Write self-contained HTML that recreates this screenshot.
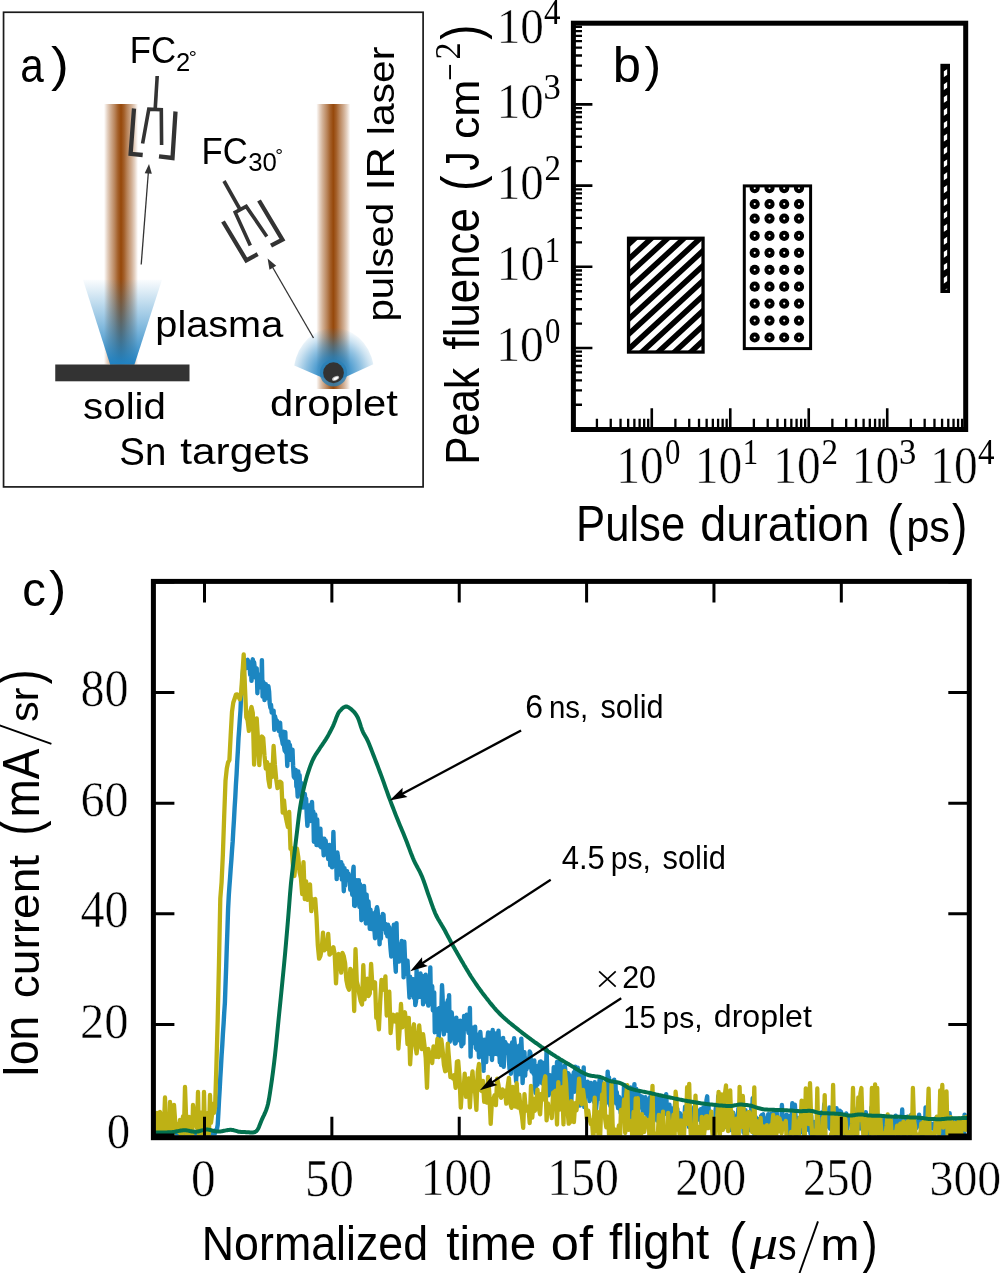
<!DOCTYPE html>
<html><head><meta charset="utf-8"><title>Figure</title>
<style>html,body{margin:0;padding:0;background:#fff;overflow:hidden}svg{display:block;will-change:transform}</style>
</head><body>
<svg width="1000" height="1273" viewBox="0 0 1000 1273">
<rect width="1000" height="1273" fill="#fff"/>
<rect x="3.55" y="12.25" width="419.55" height="474.65" fill="none" stroke="#1a1a1a" stroke-width="1.7"/>
<defs>
<linearGradient id="beam" x1="0" y1="0" x2="1" y2="0">
<stop offset="0" stop-color="#96480a" stop-opacity="0"/>
<stop offset="0.04" stop-color="#96480a" stop-opacity="0.1"/>
<stop offset="0.1" stop-color="#96480a" stop-opacity="0.25"/>
<stop offset="0.18" stop-color="#96480a" stop-opacity="0.42"/>
<stop offset="0.32" stop-color="#96480a" stop-opacity="0.68"/>
<stop offset="0.41" stop-color="#96480a" stop-opacity="0.87"/>
<stop offset="0.5" stop-color="#96480a" stop-opacity="1"/>
<stop offset="0.59" stop-color="#96480a" stop-opacity="0.87"/>
<stop offset="0.68" stop-color="#96480a" stop-opacity="0.68"/>
<stop offset="0.82" stop-color="#96480a" stop-opacity="0.42"/>
<stop offset="0.9" stop-color="#96480a" stop-opacity="0.25"/>
<stop offset="0.96" stop-color="#96480a" stop-opacity="0.1"/>
<stop offset="1" stop-color="#96480a" stop-opacity="0"/>
</linearGradient>
<linearGradient id="cone" x1="0" y1="0" x2="0" y2="1">
<stop offset="0" stop-color="#1f82c3" stop-opacity="0.02"/>
<stop offset="0.5" stop-color="#1f82c3" stop-opacity="0.5"/>
<stop offset="1" stop-color="#1f82c3" stop-opacity="1"/>
</linearGradient>
<radialGradient id="glow" gradientUnits="userSpaceOnUse" cx="333.5" cy="373" r="46">
<stop offset="0" stop-color="#1f82c3" stop-opacity="1"/>
<stop offset="0.35" stop-color="#1f82c3" stop-opacity="0.82"/>
<stop offset="0.6" stop-color="#1f82c3" stop-opacity="0.5"/>
<stop offset="0.8" stop-color="#1f82c3" stop-opacity="0.22"/>
<stop offset="1" stop-color="#1f82c3" stop-opacity="0"/>
</radialGradient>
</defs>
<rect x="104" y="104" width="34" height="260.5" fill="url(#beam)"/>
<rect x="316.3" y="104" width="34" height="285" fill="url(#beam)"/>
<polygon points="83,279.7 162,279.7 134.4,364.7 110.2,364.7" fill="url(#cone)"/>
<rect x="55.25" y="364.5" width="134.25" height="16.8" fill="#333"/>
<path d="M333.5,382.5 L294.2,365.6 A40.3,46 0 0 1 373.3,364.2 Z" fill="url(#glow)"/>
<circle cx="333.5" cy="373" r="13.6" fill="#2a7fb5" fill-opacity="0.8"/>
<circle cx="333.5" cy="372.75" r="10.4" fill="#333"/>
<ellipse cx="335.6" cy="378.4" rx="3.8" ry="2.0" transform="rotate(-25 335.6 378.4)" fill="#bbb"/>
<ellipse cx="335.8" cy="378.3" rx="2.6" ry="1.2" transform="rotate(-25 335.8 378.3)" fill="#fff"/>
<polyline points="157.2,76 155.2,109" fill="none" stroke="#333" stroke-width="3.6" stroke-linejoin="miter" stroke-linecap="butt"/>
<polyline points="142.6,143.5 148.8,109.2 161.3,109.8 161.6,145" fill="none" stroke="#333" stroke-width="3.6" stroke-linejoin="miter" stroke-linecap="butt"/>
<polyline points="134,108.5 130.6,153.8 142.7,155" fill="none" stroke="#333" stroke-width="4.3" stroke-linejoin="miter" stroke-linecap="butt"/>
<polyline points="175.5,111.5 172.5,158 159,156.3" fill="none" stroke="#333" stroke-width="4.3" stroke-linejoin="miter" stroke-linecap="butt"/>
<polyline points="224,181 239.5,208.5" fill="none" stroke="#333" stroke-width="3.6" stroke-linejoin="miter" stroke-linecap="butt"/>
<polyline points="250.3,245.5 235.2,212.4 246.2,206.4 266.8,236.4" fill="none" stroke="#333" stroke-width="3.6" stroke-linejoin="miter" stroke-linecap="butt"/>
<polyline points="223,221.5 246.3,260.3 257.7,254.2" fill="none" stroke="#333" stroke-width="4.3" stroke-linejoin="miter" stroke-linecap="butt"/>
<polyline points="259,200.5 282.4,239.6 271,245.7" fill="none" stroke="#333" stroke-width="4.3" stroke-linejoin="miter" stroke-linecap="butt"/>
<line x1="141.20" y1="264.50" x2="148.30" y2="172.97" stroke="#333" stroke-width="1.3"/><polygon points="149.00,164.00 151.85,173.75 148.26,173.47 144.68,173.19" fill="#333"/>
<line x1="313.50" y1="338.00" x2="272.60" y2="267.26" stroke="#333" stroke-width="1.3"/><polygon points="267.60,258.60 276.23,265.74 272.86,267.69 269.48,269.64" fill="#333"/>
<defs><clipPath id="hclip"><rect x="628.5" y="238.2" width="74.5" height="113.8"/></clipPath><clipPath id="dclip"><rect x="745.3" y="186.9" width="64.3" height="160.7"/></clipPath><clipPath id="tclip"><rect x="943.6" y="67" width="3.8" height="222.5"/></clipPath></defs>
<g clip-path="url(#hclip)"><path d="M620,222.20L712,137.56M620,237.20L712,152.56M620,252.20L712,167.56M620,267.20L712,182.56M620,282.20L712,197.56M620,297.20L712,212.56M620,312.20L712,227.56M620,327.20L712,242.56M620,342.20L712,257.56M620,357.20L712,272.56M620,372.20L712,287.56M620,387.20L712,302.56M620,402.20L712,317.56M620,417.20L712,332.56M620,432.20L712,347.56M620,447.20L712,362.56" stroke="#000" stroke-width="5.5" fill="none"/></g>
<rect x="628.55" y="238.25" width="74.5" height="113.8" fill="none" stroke="#000" stroke-width="3.3"/>
<g clip-path="url(#dclip)"><circle cx="754.7" cy="188.1" r="5.1" fill="#000"/><circle cx="754.7" cy="188.1" r="1.1" fill="#fff"/><circle cx="769.5" cy="188.1" r="5.1" fill="#000"/><circle cx="769.5" cy="188.1" r="1.1" fill="#fff"/><circle cx="784.2" cy="188.1" r="5.1" fill="#000"/><circle cx="784.2" cy="188.1" r="1.1" fill="#fff"/><circle cx="799.0" cy="188.1" r="5.1" fill="#000"/><circle cx="799.0" cy="188.1" r="1.1" fill="#fff"/><circle cx="754.7" cy="204.1" r="5.1" fill="#000"/><circle cx="754.7" cy="204.1" r="1.1" fill="#fff"/><circle cx="769.5" cy="204.1" r="5.1" fill="#000"/><circle cx="769.5" cy="204.1" r="1.1" fill="#fff"/><circle cx="784.2" cy="204.1" r="5.1" fill="#000"/><circle cx="784.2" cy="204.1" r="1.1" fill="#fff"/><circle cx="799.0" cy="204.1" r="5.1" fill="#000"/><circle cx="799.0" cy="204.1" r="1.1" fill="#fff"/><circle cx="754.7" cy="218.6" r="5.1" fill="#000"/><circle cx="754.7" cy="218.6" r="1.1" fill="#fff"/><circle cx="769.5" cy="218.6" r="5.1" fill="#000"/><circle cx="769.5" cy="218.6" r="1.1" fill="#fff"/><circle cx="784.2" cy="218.6" r="5.1" fill="#000"/><circle cx="784.2" cy="218.6" r="1.1" fill="#fff"/><circle cx="799.0" cy="218.6" r="5.1" fill="#000"/><circle cx="799.0" cy="218.6" r="1.1" fill="#fff"/><circle cx="754.7" cy="235.8" r="5.1" fill="#000"/><circle cx="754.7" cy="235.8" r="1.1" fill="#fff"/><circle cx="769.5" cy="235.8" r="5.1" fill="#000"/><circle cx="769.5" cy="235.8" r="1.1" fill="#fff"/><circle cx="784.2" cy="235.8" r="5.1" fill="#000"/><circle cx="784.2" cy="235.8" r="1.1" fill="#fff"/><circle cx="799.0" cy="235.8" r="5.1" fill="#000"/><circle cx="799.0" cy="235.8" r="1.1" fill="#fff"/><circle cx="754.7" cy="252.8" r="5.1" fill="#000"/><circle cx="754.7" cy="252.8" r="1.1" fill="#fff"/><circle cx="769.5" cy="252.8" r="5.1" fill="#000"/><circle cx="769.5" cy="252.8" r="1.1" fill="#fff"/><circle cx="784.2" cy="252.8" r="5.1" fill="#000"/><circle cx="784.2" cy="252.8" r="1.1" fill="#fff"/><circle cx="799.0" cy="252.8" r="5.1" fill="#000"/><circle cx="799.0" cy="252.8" r="1.1" fill="#fff"/><circle cx="754.7" cy="269.8" r="5.1" fill="#000"/><circle cx="754.7" cy="269.8" r="1.1" fill="#fff"/><circle cx="769.5" cy="269.8" r="5.1" fill="#000"/><circle cx="769.5" cy="269.8" r="1.1" fill="#fff"/><circle cx="784.2" cy="269.8" r="5.1" fill="#000"/><circle cx="784.2" cy="269.8" r="1.1" fill="#fff"/><circle cx="799.0" cy="269.8" r="5.1" fill="#000"/><circle cx="799.0" cy="269.8" r="1.1" fill="#fff"/><circle cx="754.7" cy="286.7" r="5.1" fill="#000"/><circle cx="754.7" cy="286.7" r="1.1" fill="#fff"/><circle cx="769.5" cy="286.7" r="5.1" fill="#000"/><circle cx="769.5" cy="286.7" r="1.1" fill="#fff"/><circle cx="784.2" cy="286.7" r="5.1" fill="#000"/><circle cx="784.2" cy="286.7" r="1.1" fill="#fff"/><circle cx="799.0" cy="286.7" r="5.1" fill="#000"/><circle cx="799.0" cy="286.7" r="1.1" fill="#fff"/><circle cx="754.7" cy="303.6" r="5.1" fill="#000"/><circle cx="754.7" cy="303.6" r="1.1" fill="#fff"/><circle cx="769.5" cy="303.6" r="5.1" fill="#000"/><circle cx="769.5" cy="303.6" r="1.1" fill="#fff"/><circle cx="784.2" cy="303.6" r="5.1" fill="#000"/><circle cx="784.2" cy="303.6" r="1.1" fill="#fff"/><circle cx="799.0" cy="303.6" r="5.1" fill="#000"/><circle cx="799.0" cy="303.6" r="1.1" fill="#fff"/><circle cx="754.7" cy="320.6" r="5.1" fill="#000"/><circle cx="754.7" cy="320.6" r="1.1" fill="#fff"/><circle cx="769.5" cy="320.6" r="5.1" fill="#000"/><circle cx="769.5" cy="320.6" r="1.1" fill="#fff"/><circle cx="784.2" cy="320.6" r="5.1" fill="#000"/><circle cx="784.2" cy="320.6" r="1.1" fill="#fff"/><circle cx="799.0" cy="320.6" r="5.1" fill="#000"/><circle cx="799.0" cy="320.6" r="1.1" fill="#fff"/><circle cx="754.7" cy="337.5" r="5.1" fill="#000"/><circle cx="754.7" cy="337.5" r="1.1" fill="#fff"/><circle cx="769.5" cy="337.5" r="5.1" fill="#000"/><circle cx="769.5" cy="337.5" r="1.1" fill="#fff"/><circle cx="784.2" cy="337.5" r="5.1" fill="#000"/><circle cx="784.2" cy="337.5" r="1.1" fill="#fff"/><circle cx="799.0" cy="337.5" r="5.1" fill="#000"/><circle cx="799.0" cy="337.5" r="1.1" fill="#fff"/></g>
<rect x="744.3" y="185.9" width="66.3" height="162.7" fill="none" stroke="#000" stroke-width="3"/>
<rect x="940.4" y="63.8" width="9.6" height="229.2" fill="#000"/>
<g clip-path="url(#tclip)"><path d="M943.6,71.50L947.4,68.90L947.4,74.70L943.6,77.30ZM943.6,84.40L947.4,81.80L947.4,87.60L943.6,90.20ZM943.6,97.30L947.4,94.70L947.4,100.50L943.6,103.10ZM943.6,110.20L947.4,107.60L947.4,113.40L943.6,116.00ZM943.6,123.10L947.4,120.50L947.4,126.30L943.6,128.90ZM943.6,136.00L947.4,133.40L947.4,139.20L943.6,141.80ZM943.6,148.90L947.4,146.30L947.4,152.10L943.6,154.70ZM943.6,161.80L947.4,159.20L947.4,165.00L943.6,167.60ZM943.6,174.70L947.4,172.10L947.4,177.90L943.6,180.50ZM943.6,187.60L947.4,185.00L947.4,190.80L943.6,193.40ZM943.6,200.50L947.4,197.90L947.4,203.70L943.6,206.30ZM943.6,213.40L947.4,210.80L947.4,216.60L943.6,219.20ZM943.6,226.30L947.4,223.70L947.4,229.50L943.6,232.10ZM943.6,239.20L947.4,236.60L947.4,242.40L943.6,245.00ZM943.6,252.10L947.4,249.50L947.4,255.30L943.6,257.90ZM943.6,265.00L947.4,262.40L947.4,268.20L943.6,270.80ZM943.6,277.90L947.4,275.30L947.4,281.10L943.6,283.70ZM943.6,290.80L947.4,288.20L947.4,294.00L943.6,296.60ZM943.6,303.70L947.4,301.10L947.4,306.90L943.6,309.50Z" fill="#fff"/></g>
<path d="M573.4,429.20H592.4M573.30,429.5V408.3M573.4,348.00H592.4M651.78,429.5V408.3M573.4,266.80H592.4M730.26,429.5V408.3M573.4,185.60H592.4M808.74,429.5V408.3M573.4,104.40H592.4M887.22,429.5V408.3M573.4,23.20H592.4M965.70,429.5V408.3" stroke="#000" stroke-width="2.6" fill="none"/>
<path d="M573.4,404.76H582.0M596.92,429.5V418.8M573.4,390.46H582.0M610.74,429.5V418.8M573.4,380.31H582.0M620.55,429.5V418.8M573.4,372.44H582.0M628.16,429.5V418.8M573.4,366.01H582.0M634.37,429.5V418.8M573.4,360.58H582.0M639.62,429.5V418.8M573.4,355.87H582.0M644.17,429.5V418.8M573.4,351.72H582.0M648.19,429.5V418.8M573.4,323.56H582.0M675.40,429.5V418.8M573.4,309.26H582.0M689.22,429.5V418.8M573.4,299.11H582.0M699.03,429.5V418.8M573.4,291.24H582.0M706.64,429.5V418.8M573.4,284.81H582.0M712.85,429.5V418.8M573.4,279.38H582.0M718.10,429.5V418.8M573.4,274.67H582.0M722.65,429.5V418.8M573.4,270.52H582.0M726.67,429.5V418.8M573.4,242.36H582.0M753.88,429.5V418.8M573.4,228.06H582.0M767.70,429.5V418.8M573.4,217.91H582.0M777.51,429.5V418.8M573.4,210.04H582.0M785.12,429.5V418.8M573.4,203.61H582.0M791.33,429.5V418.8M573.4,198.18H582.0M796.58,429.5V418.8M573.4,193.47H582.0M801.13,429.5V418.8M573.4,189.32H582.0M805.15,429.5V418.8M573.4,161.16H582.0M832.36,429.5V418.8M573.4,146.86H582.0M846.18,429.5V418.8M573.4,136.71H582.0M855.99,429.5V418.8M573.4,128.84H582.0M863.60,429.5V418.8M573.4,122.41H582.0M869.81,429.5V418.8M573.4,116.98H582.0M875.06,429.5V418.8M573.4,112.27H582.0M879.61,429.5V418.8M573.4,108.12H582.0M883.63,429.5V418.8M573.4,79.96H582.0M910.84,429.5V418.8M573.4,65.66H582.0M924.66,429.5V418.8M573.4,55.51H582.0M934.47,429.5V418.8M573.4,47.64H582.0M942.08,429.5V418.8M573.4,41.21H582.0M948.29,429.5V418.8M573.4,35.78H582.0M953.54,429.5V418.8M573.4,31.07H582.0M958.09,429.5V418.8M573.4,26.92H582.0M962.11,429.5V418.8" stroke="#000" stroke-width="2.3" fill="none"/>
<rect x="573.4" y="23.2" width="392.30" height="406.30" fill="none" stroke="#000" stroke-width="5"/>
<defs><clipPath id="cclip"><rect x="153.4" y="581.4" width="815.9" height="554.1"/></clipPath></defs>
<g clip-path="url(#cclip)">
<path d="M154.0,1134.4 L154.7,1132.5 L155.3,1131.3 L156.0,1133.9 L156.6,1133.5 L157.3,1132.0 L157.9,1132.3 L158.6,1132.5 L159.2,1134.1 L159.9,1134.6 L160.5,1132.6 L161.2,1135.7 L161.8,1133.9 L162.5,1132.8 L163.1,1134.0 L163.8,1133.5 L164.4,1135.6 L165.1,1134.3 L165.7,1133.7 L166.4,1133.1 L167.0,1133.3 L167.7,1132.9 L168.3,1134.5 L169.0,1133.1 L169.6,1135.6 L170.3,1133.2 L170.9,1133.9 L171.6,1134.9 L172.2,1131.2 L172.9,1132.5 L173.5,1134.0 L174.2,1134.2 L174.8,1133.7 L175.5,1133.5 L176.1,1132.9 L176.8,1133.7 L177.4,1131.7 L178.1,1132.0 L178.7,1135.0 L179.4,1132.9 L180.0,1132.4 L180.7,1135.5 L181.3,1134.5 L182.0,1133.2 L182.6,1132.7 L183.3,1132.9 L183.9,1132.1 L184.6,1134.2 L185.2,1134.2 L185.9,1133.9 L186.5,1133.8 L187.2,1133.7 L187.8,1136.0 L188.5,1135.0 L189.1,1132.3 L189.8,1134.7 L190.4,1132.7 L191.1,1132.5 L191.7,1134.1 L192.4,1132.6 L193.0,1132.7 L193.7,1135.2 L194.3,1132.4 L195.0,1133.1 L195.6,1133.4 L196.3,1134.9 L196.9,1134.5 L197.6,1132.1 L198.2,1133.0 L198.9,1133.4 L199.5,1135.0 L200.2,1135.0 L200.8,1134.6 L201.5,1135.2 L202.1,1133.7 L202.8,1133.7 L203.4,1134.3 L204.1,1132.7 L204.7,1133.2 L205.4,1134.2 L206.0,1133.1 L206.7,1133.8 L207.3,1134.4 L208.0,1134.4 L208.6,1132.8 L209.3,1133.8 L209.9,1134.5 L210.6,1133.8 L211.2,1132.5 L211.9,1133.6 L212.5,1134.9 L213.2,1133.5 L213.8,1134.1 L214.5,1134.6 L215.1,1131.4 L215.8,1130.8 L216.4,1129.3 L217.1,1128.4 L217.7,1124.8 L218.4,1112.6 L219.0,1100.7 L219.7,1089.0 L220.3,1077.7 L221.0,1066.0 L221.6,1055.1 L222.3,1044.8 L222.9,1033.9 L223.6,1023.6 L224.2,1013.0 L224.9,1002.6 L225.5,985.3 L226.2,966.2 L226.8,947.2 L227.5,927.5 L228.1,908.9 L228.8,895.4 L229.4,886.6 L230.1,877.4 L230.7,868.5 L231.4,859.7 L232.0,850.5 L232.7,841.4 L233.3,830.4 L234.0,819.4 L234.6,807.9 L235.3,797.1 L235.9,785.0 L236.6,774.2 L237.2,762.0 L237.9,750.4 L238.5,738.3 L239.2,728.9 L239.8,719.9 L240.5,710.3 L241.1,695.5 L241.8,693.8 L242.4,680.0 L243.1,669.7 L243.7,672.8 L244.4,666.3 L245.0,663.1 L245.7,663.2 L246.3,668.1 L247.0,660.4 L247.6,659.9 L248.3,661.5 L248.9,663.1 L249.6,665.9 L250.2,674.9 L250.9,667.0 L251.5,680.9 L252.2,662.1 L252.8,659.3 L253.5,673.5 L254.1,662.3 L254.8,668.4 L255.4,677.5 L256.1,669.5 L256.7,668.4 L257.4,693.2 L258.0,674.1 L258.7,677.4 L259.3,686.6 L260.0,680.4 L260.6,675.9 L261.3,687.4 L261.9,660.1 L262.6,696.6 L263.2,681.7 L263.9,683.5 L264.5,700.1 L265.2,690.4 L265.8,684.1 L266.5,698.2 L267.1,690.4 L267.8,696.0 L268.4,686.3 L269.1,691.6 L269.7,703.3 L270.4,707.7 L271.0,704.6 L271.7,712.6 L272.3,712.4 L273.0,710.7 L273.6,710.7 L274.3,729.9 L274.9,716.1 L275.6,719.0 L276.2,720.3 L276.9,720.7 L277.5,727.1 L278.2,727.4 L278.8,730.8 L279.5,727.3 L280.1,722.7 L280.8,735.8 L281.4,736.9 L282.1,740.0 L282.7,743.8 L283.4,731.7 L284.0,745.9 L284.7,750.8 L285.3,732.1 L286.0,752.8 L286.6,750.1 L287.3,766.0 L287.9,742.7 L288.6,741.7 L289.2,760.0 L289.9,745.0 L290.5,753.3 L291.2,751.3 L291.8,753.9 L292.5,749.6 L293.1,765.9 L293.8,776.7 L294.4,777.7 L295.1,776.8 L295.7,769.9 L296.4,786.7 L297.0,784.0 L297.7,796.6 L298.3,771.5 L299.0,789.0 L299.6,775.1 L300.3,794.1 L300.9,790.2 L301.6,783.3 L302.2,795.9 L302.9,807.5 L303.5,802.3 L304.2,805.6 L304.8,793.9 L305.5,802.3 L306.1,798.7 L306.8,816.3 L307.4,825.8 L308.1,817.5 L308.7,819.6 L309.4,805.5 L310.0,817.3 L310.7,820.9 L311.3,808.8 L312.0,802.0 L312.6,818.9 L313.3,811.4 L313.9,841.7 L314.6,830.4 L315.2,814.4 L315.9,827.3 L316.5,845.1 L317.2,819.5 L317.8,837.1 L318.5,835.0 L319.1,845.5 L319.8,841.5 L320.4,828.6 L321.1,847.4 L321.7,838.3 L322.4,847.8 L323.0,843.0 L323.7,855.3 L324.3,838.7 L325.0,849.8 L325.6,840.5 L326.3,846.6 L326.9,849.3 L327.6,850.5 L328.2,859.0 L328.9,848.2 L329.5,845.0 L330.2,865.3 L330.8,848.9 L331.5,850.6 L332.1,867.3 L332.8,856.8 L333.4,832.0 L334.1,857.9 L334.7,864.6 L335.4,865.1 L336.0,853.3 L336.7,879.1 L337.3,852.4 L338.0,857.0 L338.6,866.9 L339.3,870.0 L339.9,874.5 L340.6,870.7 L341.2,862.1 L341.9,879.6 L342.5,865.0 L343.2,872.7 L343.8,891.2 L344.5,868.2 L345.1,885.7 L345.8,873.0 L346.4,871.7 L347.1,871.4 L347.7,878.8 L348.4,873.8 L349.0,877.2 L349.7,880.7 L350.3,889.9 L351.0,885.8 L351.6,887.0 L352.3,894.7 L352.9,873.0 L353.6,866.7 L354.2,905.7 L354.9,905.9 L355.5,891.9 L356.2,896.1 L356.8,880.1 L357.5,882.4 L358.1,901.8 L358.8,880.1 L359.4,907.0 L360.1,884.3 L360.7,894.7 L361.4,920.2 L362.0,917.0 L362.7,895.0 L363.3,913.9 L364.0,886.0 L364.6,898.3 L365.3,911.1 L365.9,923.5 L366.6,894.7 L367.2,908.2 L367.9,914.0 L368.5,901.5 L369.2,914.8 L369.8,928.9 L370.5,909.7 L371.1,923.3 L371.8,921.8 L372.4,913.2 L373.1,929.7 L373.7,927.1 L374.4,929.0 L375.0,938.2 L375.7,912.3 L376.3,910.1 L377.0,907.2 L377.6,910.2 L378.3,920.2 L378.9,928.2 L379.6,944.3 L380.2,917.1 L380.9,938.7 L381.5,917.9 L382.2,929.7 L382.8,913.9 L383.5,914.7 L384.1,926.3 L384.8,928.3 L385.4,923.9 L386.1,933.3 L386.7,928.0 L387.4,936.2 L388.0,924.8 L388.7,933.7 L389.3,927.1 L390.0,940.8 L390.6,949.0 L391.3,956.6 L391.9,951.4 L392.6,945.7 L393.2,940.9 L393.9,924.7 L394.5,940.6 L395.2,963.2 L395.8,971.7 L396.5,923.1 L397.1,948.1 L397.8,952.8 L398.4,944.4 L399.1,961.5 L399.7,954.3 L400.4,948.0 L401.0,953.8 L401.7,941.0 L402.3,949.1 L403.0,948.8 L403.6,977.4 L404.3,941.8 L404.9,956.5 L405.6,973.9 L406.2,964.4 L406.9,970.4 L407.5,960.7 L408.2,973.7 L408.8,985.4 L409.5,997.5 L410.1,976.7 L410.8,994.6 L411.4,978.6 L412.1,981.1 L412.7,991.5 L413.4,979.3 L414.0,998.0 L414.7,990.3 L415.3,1005.1 L416.0,1001.3 L416.6,970.1 L417.3,997.6 L417.9,993.6 L418.6,985.4 L419.2,988.0 L419.9,996.9 L420.5,973.5 L421.2,981.3 L421.8,975.6 L422.5,985.4 L423.1,1004.4 L423.8,997.3 L424.4,988.6 L425.1,983.6 L425.7,974.7 L426.4,1001.9 L427.0,999.9 L427.7,994.8 L428.3,1005.6 L429.0,1000.1 L429.6,994.7 L430.3,967.4 L430.9,1000.2 L431.6,1004.0 L432.2,986.2 L432.9,1010.5 L433.5,992.8 L434.2,992.5 L434.8,1032.2 L435.5,1019.2 L436.1,1010.6 L436.8,1014.9 L437.4,1014.6 L438.1,1009.0 L438.7,1041.8 L439.4,1007.9 L440.0,1021.5 L440.7,1014.1 L441.3,1012.8 L442.0,985.2 L442.6,996.6 L443.3,1030.3 L443.9,1034.3 L444.6,1003.4 L445.2,1013.1 L445.9,1020.1 L446.5,1005.8 L447.2,1030.8 L447.8,1000.3 L448.5,1010.1 L449.1,995.2 L449.8,1041.8 L450.4,1020.8 L451.1,1034.4 L451.7,1012.4 L452.4,1022.3 L453.0,1019.0 L453.7,1024.6 L454.3,1040.3 L455.0,1043.6 L455.6,1043.1 L456.3,1017.6 L456.9,1030.0 L457.6,1040.5 L458.2,1028.7 L458.9,1039.7 L459.5,1032.8 L460.2,1020.7 L460.8,1036.4 L461.5,1046.2 L462.1,1021.3 L462.8,1030.1 L463.4,1043.7 L464.1,1015.9 L464.7,1028.9 L465.4,1018.6 L466.0,1024.7 L466.7,1014.8 L467.3,1028.0 L468.0,1029.1 L468.6,1032.8 L469.3,1031.5 L469.9,1008.0 L470.6,1056.6 L471.2,1027.0 L471.9,1029.7 L472.5,1030.7 L473.2,1043.0 L473.8,1032.6 L474.5,1036.3 L475.1,1026.6 L475.8,1048.2 L476.4,1034.3 L477.1,1049.8 L477.7,1040.2 L478.4,1042.5 L479.0,1057.3 L479.7,1042.4 L480.3,1032.0 L481.0,1041.4 L481.6,1042.4 L482.3,1042.5 L482.9,1050.5 L483.6,1070.9 L484.2,1039.7 L484.9,1052.5 L485.5,1044.0 L486.2,1062.1 L486.8,1047.3 L487.5,1038.1 L488.1,1032.4 L488.8,1045.9 L489.4,1053.7 L490.1,1032.9 L490.7,1044.0 L491.4,1049.0 L492.0,1060.0 L492.7,1030.0 L493.3,1043.8 L494.0,1054.2 L494.6,1038.0 L495.3,1044.2 L495.9,1040.5 L496.6,1033.2 L497.2,1054.2 L497.9,1054.2 L498.5,1030.8 L499.2,1047.7 L499.8,1062.4 L500.5,1047.0 L501.1,1065.1 L501.8,1048.2 L502.4,1060.7 L503.1,1037.9 L503.7,1066.9 L504.4,1047.5 L505.0,1041.9 L505.7,1043.3 L506.3,1049.4 L507.0,1053.2 L507.6,1047.4 L508.3,1045.4 L508.9,1059.8 L509.6,1069.3 L510.2,1056.1 L510.9,1073.8 L511.5,1048.9 L512.2,1042.3 L512.8,1042.2 L513.5,1062.5 L514.1,1038.2 L514.8,1044.6 L515.4,1070.2 L516.1,1081.3 L516.7,1068.6 L517.4,1046.4 L518.0,1057.5 L518.7,1074.4 L519.3,1067.7 L520.0,1045.1 L520.6,1052.5 L521.3,1038.6 L521.9,1052.8 L522.6,1083.1 L523.2,1071.1 L523.9,1052.2 L524.5,1052.2 L525.2,1075.6 L525.8,1060.0 L526.5,1069.4 L527.1,1059.0 L527.8,1063.3 L528.4,1067.1 L529.1,1061.9 L529.7,1051.5 L530.4,1053.2 L531.0,1065.8 L531.7,1071.6 L532.3,1067.1 L533.0,1068.8 L533.6,1073.7 L534.3,1060.4 L534.9,1087.0 L535.6,1092.9 L536.2,1068.4 L536.9,1066.2 L537.5,1084.5 L538.2,1074.9 L538.8,1076.5 L539.5,1064.2 L540.1,1061.6 L540.8,1061.5 L541.4,1082.1 L542.1,1083.2 L542.7,1062.6 L543.4,1070.8 L544.0,1073.2 L544.7,1067.9 L545.3,1068.8 L546.0,1071.7 L546.6,1049.9 L547.3,1075.3 L547.9,1076.4 L548.6,1095.2 L549.2,1088.8 L549.9,1075.1 L550.5,1075.8 L551.2,1088.5 L551.8,1093.2 L552.5,1076.2 L553.1,1081.5 L553.8,1067.1 L554.4,1074.9 L555.1,1078.5 L555.7,1074.2 L556.4,1100.9 L557.0,1062.0 L557.7,1076.6 L558.3,1079.3 L559.0,1087.5 L559.6,1091.8 L560.3,1060.4 L560.9,1076.1 L561.6,1084.1 L562.2,1080.6 L562.9,1081.1 L563.5,1078.2 L564.2,1090.8 L564.8,1065.7 L565.5,1071.9 L566.1,1095.2 L566.8,1096.1 L567.4,1086.4 L568.1,1073.1 L568.7,1074.1 L569.4,1076.6 L570.0,1076.1 L570.7,1080.6 L571.3,1101.5 L572.0,1083.1 L572.6,1077.2 L573.3,1075.2 L573.9,1072.3 L574.6,1091.7 L575.2,1066.8 L575.9,1089.5 L576.5,1068.5 L577.2,1071.7 L577.8,1067.7 L578.5,1094.8 L579.1,1090.2 L579.8,1105.6 L580.4,1072.3 L581.1,1080.6 L581.7,1091.0 L582.4,1093.2 L583.0,1088.2 L583.7,1067.4 L584.3,1107.1 L585.0,1092.9 L585.6,1092.7 L586.3,1089.3 L586.9,1096.1 L587.6,1081.7 L588.2,1088.1 L588.9,1092.6 L589.5,1101.1 L590.2,1085.1 L590.8,1082.9 L591.5,1096.6 L592.1,1090.1 L592.8,1089.8 L593.4,1095.7 L594.1,1101.9 L594.7,1082.2 L595.4,1098.0 L596.0,1110.1 L596.7,1101.9 L597.3,1092.5 L598.0,1084.0 L598.6,1099.0 L599.3,1082.3 L599.9,1077.4 L600.6,1090.3 L601.2,1081.0 L601.9,1103.9 L602.5,1086.2 L603.2,1107.1 L603.8,1091.8 L604.5,1094.4 L605.1,1104.8 L605.8,1095.5 L606.4,1102.7 L607.1,1086.6 L607.7,1071.7 L608.4,1096.6 L609.0,1077.4 L609.7,1093.5 L610.3,1105.8 L611.0,1099.4 L611.6,1091.8 L612.3,1083.0 L612.9,1093.6 L613.6,1098.6 L614.2,1079.6 L614.9,1097.5 L615.5,1084.6 L616.2,1103.6 L616.8,1092.1 L617.5,1103.7 L618.1,1108.1 L618.8,1096.6 L619.4,1099.1 L620.1,1106.1 L620.7,1113.0 L621.4,1112.3 L622.0,1098.4 L622.7,1105.2 L623.3,1115.1 L624.0,1084.9 L624.6,1106.7 L625.3,1094.1 L625.9,1108.9 L626.6,1094.1 L627.2,1100.6 L627.9,1088.7 L628.5,1101.0 L629.2,1107.1 L629.8,1116.6 L630.5,1087.5 L631.1,1099.4 L631.8,1127.2 L632.4,1110.3 L633.1,1100.6 L633.7,1104.0 L634.4,1084.1 L635.0,1121.3 L635.7,1107.3 L636.3,1089.0 L637.0,1116.6 L637.6,1097.2 L638.3,1091.9 L638.9,1107.7 L639.6,1102.3 L640.2,1095.9 L640.9,1104.2 L641.5,1097.3 L642.2,1096.9 L642.8,1114.0 L643.5,1113.6 L644.1,1103.4 L644.8,1111.3 L645.4,1097.1 L646.1,1106.8 L646.7,1099.9 L647.4,1116.2 L648.0,1103.2 L648.7,1109.3 L649.3,1103.8 L650.0,1097.3 L650.6,1119.8 L651.3,1104.5 L651.9,1096.3 L652.6,1111.6 L653.2,1101.3 L653.9,1106.3 L654.5,1095.0 L655.2,1116.5 L655.8,1107.3 L656.5,1100.1 L657.1,1120.6 L657.8,1109.8 L658.4,1097.9 L659.1,1108.4 L659.7,1111.0 L660.4,1122.2 L661.0,1097.3 L661.7,1112.1 L662.3,1110.7 L663.0,1117.2 L663.6,1106.2 L664.3,1112.9 L664.9,1113.9 L665.6,1097.4 L666.2,1094.2 L666.9,1110.9 L667.5,1108.2 L668.2,1114.7 L668.8,1112.7 L669.5,1104.8 L670.1,1120.1 L670.8,1107.9 L671.4,1111.8 L672.1,1119.8 L672.7,1112.8 L673.4,1110.5 L674.0,1114.9 L674.7,1107.6 L675.3,1102.0 L676.0,1110.1 L676.6,1116.6 L677.3,1108.7 L677.9,1117.4 L678.6,1125.3 L679.2,1127.6 L679.9,1113.1 L680.5,1116.0 L681.2,1116.3 L681.8,1122.1 L682.5,1119.7 L683.1,1118.7 L683.8,1121.5 L684.4,1117.8 L685.1,1106.7 L685.7,1110.8 L686.4,1113.6 L687.0,1120.7 L687.7,1112.0 L688.3,1120.2 L689.0,1126.9 L689.6,1108.9 L690.3,1111.3 L690.9,1117.3 L691.6,1112.1 L692.2,1110.5 L692.9,1124.5 L693.5,1116.6 L694.2,1106.9 L694.8,1125.0 L695.5,1101.3 L696.1,1110.8 L696.8,1113.8 L697.4,1112.1 L698.1,1119.6 L698.7,1110.8 L699.4,1117.4 L700.0,1114.6 L700.7,1109.2 L701.3,1123.3 L702.0,1119.8 L702.6,1109.8 L703.3,1107.6 L703.9,1111.5 L704.6,1117.7 L705.2,1110.6 L705.9,1121.3 L706.5,1100.1 L707.2,1096.3 L707.8,1111.7 L708.5,1106.0 L709.1,1117.6 L709.8,1112.2 L710.4,1122.2 L711.1,1117.4 L711.7,1127.6 L712.4,1121.7 L713.0,1124.5 L713.7,1121.3 L714.3,1124.0 L715.0,1123.7 L715.6,1110.1 L716.3,1104.8 L716.9,1109.6 L717.6,1116.0 L718.2,1096.2 L718.9,1120.2 L719.5,1107.1 L720.2,1118.7 L720.8,1120.1 L721.5,1110.3 L722.1,1112.9 L722.8,1097.1 L723.4,1120.9 L724.1,1119.2 L724.7,1104.8 L725.4,1126.9 L726.0,1120.6 L726.7,1120.4 L727.3,1105.7 L728.0,1123.1 L728.6,1125.3 L729.3,1120.3 L729.9,1110.2 L730.6,1126.7 L731.2,1130.1 L731.9,1119.7 L732.5,1125.2 L733.2,1112.7 L733.8,1116.2 L734.5,1124.2 L735.1,1122.2 L735.8,1132.9 L736.4,1118.4 L737.1,1116.6 L737.7,1120.2 L738.4,1108.4 L739.0,1121.2 L739.7,1125.0 L740.3,1118.0 L741.0,1114.2 L741.6,1110.0 L742.3,1116.4 L742.9,1111.9 L743.6,1132.8 L744.2,1122.3 L744.9,1118.2 L745.5,1110.2 L746.2,1134.3 L746.8,1127.5 L747.5,1122.4 L748.1,1123.6 L748.8,1119.1 L749.4,1113.3 L750.1,1130.2 L750.7,1119.0 L751.4,1106.2 L752.0,1118.8 L752.7,1098.1 L753.3,1126.5 L754.0,1125.6 L754.6,1136.2 L755.3,1132.4 L755.9,1117.3 L756.6,1119.7 L757.2,1124.7 L757.9,1125.0 L758.5,1119.3 L759.2,1126.5 L759.8,1125.7 L760.5,1129.4 L761.1,1116.1 L761.8,1115.2 L762.4,1114.8 L763.1,1114.4 L763.7,1118.5 L764.4,1118.0 L765.0,1126.7 L765.7,1127.5 L766.3,1133.1 L767.0,1124.6 L767.6,1120.8 L768.3,1114.1 L768.9,1123.0 L769.6,1128.3 L770.2,1114.5 L770.9,1114.0 L771.5,1116.4 L772.2,1115.4 L772.8,1118.3 L773.5,1112.9 L774.1,1124.6 L774.8,1115.7 L775.4,1122.8 L776.1,1120.1 L776.7,1112.2 L777.4,1125.4 L778.0,1122.7 L778.7,1124.6 L779.3,1122.6 L780.0,1123.1 L780.6,1129.1 L781.3,1123.7 L781.9,1105.0 L782.6,1124.2 L783.2,1128.0 L783.9,1123.0 L784.5,1120.3 L785.2,1125.0 L785.8,1125.0 L786.5,1114.7 L787.1,1120.3 L787.8,1126.9 L788.4,1116.0 L789.1,1116.1 L789.7,1135.0 L790.4,1123.0 L791.0,1121.5 L791.7,1116.8 L792.3,1103.3 L793.0,1110.3 L793.6,1117.9 L794.3,1132.4 L794.9,1104.8 L795.6,1118.1 L796.2,1136.3 L796.9,1128.8 L797.5,1123.2 L798.2,1126.7 L798.8,1122.3 L799.5,1117.6 L800.1,1130.5 L800.8,1124.1 L801.4,1117.9 L802.1,1132.4 L802.7,1110.3 L803.4,1116.8 L804.0,1135.6 L804.7,1120.1 L805.3,1126.9 L806.0,1116.3 L806.6,1120.4 L807.3,1120.6 L807.9,1119.3 L808.6,1130.1 L809.2,1130.4 L809.9,1127.4 L810.5,1133.5 L811.2,1115.5 L811.8,1132.8 L812.5,1123.7 L813.1,1135.5 L813.8,1122.4 L814.4,1122.1 L815.1,1133.3 L815.7,1129.4 L816.4,1124.7 L817.0,1122.0 L817.7,1118.7 L818.3,1126.8 L819.0,1124.1 L819.6,1118.4 L820.3,1121.6 L820.9,1127.0 L821.6,1112.4 L822.2,1130.2 L822.9,1123.9 L823.5,1118.2 L824.2,1104.3 L824.8,1112.4 L825.5,1118.7 L826.1,1118.0 L826.8,1117.5 L827.4,1122.1 L828.1,1126.5 L828.7,1122.7 L829.4,1107.5 L830.0,1128.8 L830.7,1122.0 L831.3,1129.4 L832.0,1119.1 L832.6,1119.2 L833.3,1125.8 L833.9,1124.2 L834.6,1125.4 L835.2,1118.3 L835.9,1135.2 L836.5,1108.2 L837.2,1121.9 L837.8,1128.5 L838.5,1124.2 L839.1,1119.5 L839.8,1110.7 L840.4,1132.4 L841.1,1112.0 L841.7,1126.6 L842.4,1121.9 L843.0,1126.1 L843.7,1135.7 L844.3,1118.1 L845.0,1121.5 L845.6,1118.9 L846.3,1113.5 L846.9,1130.0 L847.6,1123.2 L848.2,1122.2 L848.9,1118.1 L849.5,1120.2 L850.2,1123.0 L850.8,1120.1 L851.5,1116.7 L852.1,1133.2 L852.8,1118.4 L853.4,1108.0 L854.1,1127.5 L854.7,1122.7 L855.4,1119.1 L856.0,1137.6 L856.7,1119.6 L857.3,1115.9 L858.0,1122.5 L858.6,1127.2 L859.3,1125.6 L859.9,1128.5 L860.6,1128.2 L861.2,1121.4 L861.9,1120.2 L862.5,1126.0 L863.2,1117.6 L863.8,1118.9 L864.5,1131.1 L865.1,1124.7 L865.8,1112.2 L866.4,1119.1 L867.1,1122.8 L867.7,1124.3 L868.4,1120.5 L869.0,1135.0 L869.7,1117.5 L870.3,1117.6 L871.0,1127.0 L871.6,1107.1 L872.3,1118.5 L872.9,1130.6 L873.6,1115.7 L874.2,1121.2 L874.9,1133.3 L875.5,1129.5 L876.2,1124.4 L876.8,1122.6 L877.5,1121.5 L878.1,1122.7 L878.8,1123.7 L879.4,1139.8 L880.1,1131.0 L880.7,1123.5 L881.4,1121.9 L882.0,1121.4 L882.7,1118.6 L883.3,1119.1 L884.0,1136.7 L884.6,1118.6 L885.3,1120.7 L885.9,1133.4 L886.6,1131.1 L887.2,1120.5 L887.9,1136.5 L888.5,1118.9 L889.2,1134.4 L889.8,1129.9 L890.5,1123.5 L891.1,1131.2 L891.8,1126.6 L892.4,1121.0 L893.1,1134.9 L893.7,1125.8 L894.4,1132.9 L895.0,1121.9 L895.7,1115.7 L896.3,1121.3 L897.0,1121.8 L897.6,1127.9 L898.3,1136.1 L898.9,1125.0 L899.6,1123.2 L900.2,1120.0 L900.9,1121.7 L901.5,1124.9 L902.2,1109.5 L902.8,1130.3 L903.5,1131.7 L904.1,1139.9 L904.8,1118.4 L905.4,1124.9 L906.1,1124.8 L906.7,1118.9 L907.4,1116.7 L908.0,1120.2 L908.7,1131.2 L909.3,1129.0 L910.0,1134.6 L910.6,1123.5 L911.3,1114.8 L911.9,1130.6 L912.6,1124.7 L913.2,1131.2 L913.9,1131.2 L914.5,1123.7 L915.2,1127.8 L915.8,1122.3 L916.5,1127.9 L917.1,1126.3 L917.8,1122.8 L918.4,1124.6 L919.1,1114.6 L919.7,1120.8 L920.4,1123.8 L921.0,1121.2 L921.7,1118.4 L922.3,1139.9 L923.0,1125.0 L923.6,1121.3 L924.3,1120.2 L924.9,1130.2 L925.6,1107.4 L926.2,1126.8 L926.9,1130.6 L927.5,1124.9 L928.2,1129.1 L928.8,1121.1 L929.5,1122.0 L930.1,1124.3 L930.8,1125.8 L931.4,1126.4 L932.1,1124.4 L932.7,1128.5 L933.4,1123.7 L934.0,1124.9 L934.7,1125.0 L935.3,1125.5 L936.0,1119.8 L936.6,1117.3 L937.3,1119.5 L937.9,1129.9 L938.6,1119.6 L939.2,1125.8 L939.9,1141.0 L940.5,1129.0 L941.2,1122.3 L941.8,1124.2 L942.5,1136.2 L943.1,1123.5 L943.8,1135.3 L944.4,1132.3 L945.1,1133.2 L945.7,1118.0 L946.4,1127.6 L947.0,1116.3 L947.7,1124.0 L948.3,1129.6 L949.0,1127.7 L949.6,1113.1 L950.3,1128.9 L950.9,1131.5 L951.6,1126.8 L952.2,1119.1 L952.9,1123.1 L953.5,1123.4 L954.2,1133.5 L954.8,1126.7 L955.5,1133.6 L956.1,1130.1 L956.8,1121.5 L957.4,1124.0 L958.1,1138.8 L958.7,1120.1 L959.4,1129.9 L960.0,1122.7 L960.7,1123.7 L961.3,1128.0 L962.0,1129.6 L962.6,1131.5 L963.3,1127.2 L963.9,1134.9 L964.6,1114.7 L965.2,1128.7 L965.9,1128.7 L966.5,1123.5 L967.2,1124.5 L967.8,1119.3 L968.5,1130.0 L969.1,1123.9 L969.8,1117.9 L970.4,1128.1 L971.1,1124.2 L971.7,1128.2" fill="none" stroke="#1c86c1" stroke-width="4.4" stroke-linejoin="round" stroke-linecap="butt"/>
<path d="M154.0,1116.4 L155.0,1129.0 L156.0,1132.5 L157.0,1113.0 L158.0,1118.0 L159.0,1143.6 L160.0,1112.0 L161.0,1116.4 L162.0,1144.2 L163.0,1133.1 L164.0,1124.5 L165.0,1097.5 L166.0,1134.5 L167.0,1121.4 L168.0,1116.7 L169.0,1138.8 L170.0,1102.0 L171.0,1129.4 L172.0,1139.8 L173.0,1130.7 L174.0,1105.0 L175.0,1119.0 L176.0,1130.8 L177.0,1128.4 L178.0,1124.0 L179.0,1132.1 L180.0,1120.0 L181.0,1139.3 L182.0,1141.5 L183.0,1116.4 L184.0,1127.9 L185.0,1087.0 L186.0,1114.8 L187.0,1142.5 L188.0,1126.6 L189.0,1117.0 L190.0,1134.9 L191.0,1118.9 L192.0,1142.6 L193.0,1105.0 L194.0,1113.1 L195.0,1118.8 L196.0,1123.8 L197.0,1127.9 L198.0,1092.0 L199.0,1135.7 L200.0,1123.5 L201.0,1112.6 L202.0,1117.4 L203.0,1145.9 L204.0,1092.0 L205.0,1135.5 L206.0,1113.9 L207.0,1113.2 L208.0,1140.8 L209.0,1132.0 L210.0,1095.0 L211.0,1122.8 L212.0,1115.0 L213.0,1104.0 L214.0,1112.8 L215.1,1106.7 L216.4,1065.9 L217.7,1019.9 L219.0,962.2 L220.3,898.5 L221.6,882.1 L222.9,853.9 L224.2,815.8 L225.5,780.8 L226.8,768.5 L228.1,762.3 L229.4,760.2 L230.7,734.9 L232.0,711.7 L233.3,702.5 L234.6,698.7 L235.9,694.7 L237.2,694.4 L238.5,696.7 L239.8,699.3 L241.1,693.2 L242.4,674.0 L243.7,654.3 L245.0,688.2 L246.3,717.1 L247.6,720.2 L248.9,730.9 L250.2,712.1 L251.5,707.0 L252.8,713.0 L254.1,764.7 L255.4,736.5 L256.7,718.4 L258.0,739.5 L259.3,765.1 L260.6,742.6 L261.9,736.5 L263.2,737.9 L264.5,755.7 L265.8,768.5 L267.1,762.2 L268.4,779.3 L269.7,787.0 L271.0,764.7 L272.3,776.9 L273.6,746.0 L274.9,765.0 L276.2,779.2 L277.5,788.1 L278.8,784.4 L280.1,781.7 L281.4,782.7 L282.7,812.6 L284.0,800.3 L285.3,814.6 L286.6,821.2 L287.9,827.0 L289.2,812.0 L290.5,848.8 L291.8,848.2 L293.1,868.4 L294.4,876.0 L295.7,861.8 L297.0,848.7 L298.3,857.4 L299.6,872.3 L300.9,878.0 L302.2,894.1 L303.5,862.1 L304.8,899.2 L306.1,881.3 L307.4,899.9 L308.7,892.8 L310.0,884.3 L311.3,911.2 L312.6,899.2 L313.9,900.2 L315.2,899.0 L316.5,917.2 L317.8,945.1 L319.1,958.7 L320.4,956.1 L321.7,949.5 L323.0,932.7 L324.3,950.3 L325.6,948.3 L326.9,948.9 L328.2,933.9 L329.5,954.6 L330.8,953.4 L332.1,949.2 L333.4,947.2 L334.7,954.2 L336.0,983.3 L337.3,958.0 L338.6,954.0 L339.9,958.9 L341.2,972.7 L342.5,953.0 L343.8,956.3 L345.1,963.1 L346.4,980.3 L347.7,986.6 L349.0,989.7 L350.3,968.9 L351.6,971.0 L352.9,971.4 L354.2,1011.0 L355.5,949.2 L356.8,981.6 L358.1,986.6 L359.4,994.9 L360.7,1001.3 L362.0,1004.5 L363.3,965.2 L364.6,999.3 L365.9,980.0 L367.2,978.9 L368.5,996.0 L369.8,993.5 L371.1,963.9 L372.4,985.9 L373.7,988.4 L375.0,982.3 L376.3,1017.9 L377.6,1015.6 L378.9,1029.3 L380.2,1001.4 L381.5,980.0 L382.8,989.9 L384.1,989.3 L385.4,976.4 L386.7,1015.5 L388.0,1014.2 L389.3,991.7 L390.6,1033.1 L391.9,1019.5 L393.2,1014.8 L394.5,1021.4 L395.8,1021.7 L397.1,1014.3 L398.4,1048.7 L399.7,1028.7 L401.0,1004.0 L402.3,1027.4 L403.6,1017.3 L404.9,1012.3 L406.2,1022.2 L407.5,1044.0 L408.8,1017.9 L410.1,1064.3 L411.4,1042.7 L412.7,1030.5 L414.0,1024.3 L415.3,1044.7 L416.6,1053.4 L417.9,1043.6 L419.2,1025.4 L420.5,1040.2 L421.8,1049.0 L423.1,1034.2 L424.4,1044.7 L425.7,1057.7 L427.0,1087.8 L428.3,1048.9 L429.6,1057.6 L430.9,1052.7 L432.2,1063.0 L433.5,1046.3 L434.8,1054.2 L436.1,1056.8 L437.4,1038.9 L438.7,1057.1 L440.0,1051.0 L441.3,1039.4 L442.6,1050.0 L443.9,1064.8 L445.2,1071.2 L446.5,1070.4 L447.8,1043.6 L449.1,1059.9 L450.4,1077.2 L451.7,1075.2 L453.0,1078.5 L454.3,1075.2 L455.6,1087.9 L456.9,1061.8 L458.2,1061.2 L459.5,1077.1 L460.8,1107.7 L462.1,1086.3 L463.4,1092.9 L464.7,1073.6 L466.0,1096.8 L467.3,1083.4 L468.6,1078.4 L469.9,1107.3 L471.2,1083.4 L472.5,1071.5 L473.8,1091.2 L475.1,1091.9 L476.4,1109.9 L477.7,1072.0 L479.0,1063.8 L480.3,1089.7 L481.6,1091.0 L482.9,1080.9 L484.2,1101.8 L485.5,1095.5 L486.8,1102.6 L488.1,1076.9 L489.4,1094.5 L490.7,1123.8 L492.0,1099.8 L493.3,1099.3 L494.6,1095.2 L495.9,1105.2 L497.2,1078.7 L498.5,1085.0 L499.8,1094.2 L501.1,1097.8 L502.4,1089.3 L503.7,1095.9 L505.0,1090.7 L506.3,1103.7 L507.6,1086.7 L508.9,1077.9 L510.2,1102.9 L511.5,1107.8 L512.8,1086.9 L514.1,1091.8 L515.4,1106.5 L516.7,1083.1 L518.0,1107.7 L519.3,1094.6 L520.6,1108.6 L521.9,1115.5 L523.2,1127.9 L524.5,1094.1 L525.8,1110.6 L527.1,1107.7 L528.4,1106.5 L529.7,1123.0 L531.0,1085.8 L532.3,1117.5 L533.6,1098.8 L534.9,1110.8 L536.2,1101.7 L537.5,1089.6 L538.8,1108.0 L540.1,1114.3 L541.4,1093.9 L542.7,1099.6 L544.0,1082.1 L545.3,1076.3 L546.6,1120.4 L547.9,1103.4 L549.2,1112.8 L550.5,1107.5 L551.8,1118.0 L553.1,1092.6 L554.4,1091.9 L555.7,1090.7 L557.0,1124.5 L558.3,1082.2 L559.6,1109.7 L560.9,1092.4 L562.2,1087.1 L563.5,1124.4 L564.8,1070.9 L566.1,1083.1 L567.4,1108.6 L568.7,1123.7 L570.0,1122.3 L571.3,1101.1 L572.6,1104.4 L573.9,1122.0 L575.2,1103.1 L576.5,1110.3 L577.8,1098.3 L579.1,1078.6 L580.4,1097.7 L581.7,1104.2 L583.0,1089.9 L584.3,1099.5 L585.6,1102.8 L586.9,1118.9 L588.2,1110.7 L589.5,1118.5 L590.8,1124.0 L592.1,1122.3 L593.4,1141.1 L594.7,1097.7 L596.0,1130.8 L597.3,1111.9 L598.6,1138.0 L599.9,1142.0 L600.0,1140.7 L601.0,1113.0 L602.1,1094.4 L603.1,1098.3 L604.2,1083.3 L605.2,1119.5 L606.3,1127.3 L607.3,1116.6 L608.4,1118.2 L609.4,1144.7 L610.5,1125.1 L611.5,1084.3 L612.6,1123.9 L613.6,1141.0 L614.7,1129.4 L615.7,1135.1 L616.8,1144.2 L617.8,1132.6 L618.9,1125.5 L619.9,1142.9 L621.0,1109.8 L622.0,1114.8 L623.1,1114.0 L624.1,1099.5 L625.2,1133.0 L626.2,1094.6 L627.3,1085.2 L628.3,1129.9 L629.4,1121.1 L630.4,1122.2 L631.5,1120.8 L632.5,1143.7 L633.6,1112.0 L634.6,1145.6 L635.7,1098.3 L636.7,1134.9 L637.8,1098.2 L638.8,1136.3 L639.9,1137.9 L640.9,1139.0 L642.0,1114.2 L643.0,1127.9 L644.1,1132.0 L645.1,1118.1 L646.2,1122.6 L647.2,1120.0 L648.3,1124.8 L649.3,1134.6 L650.4,1118.9 L651.4,1112.7 L652.5,1085.9 L653.5,1139.4 L654.6,1133.3 L655.6,1137.8 L656.7,1133.6 L657.7,1137.6 L658.8,1115.0 L659.8,1135.3 L660.9,1130.4 L661.9,1126.2 L663.0,1111.7 L664.0,1140.0 L665.1,1139.6 L666.1,1142.5 L667.2,1142.3 L668.2,1112.9 L669.3,1126.6 L670.3,1141.5 L671.4,1132.6 L672.4,1129.3 L673.5,1114.6 L674.5,1141.8 L675.6,1091.7 L676.6,1101.8 L677.7,1129.7 L678.7,1125.3 L679.8,1136.3 L680.8,1120.5 L681.9,1142.0 L682.9,1126.0 L684.0,1137.2 L685.0,1112.8 L686.1,1123.3 L687.1,1087.2 L688.2,1124.2 L689.2,1083.9 L690.3,1126.7 L691.3,1143.9 L692.4,1142.8 L693.4,1125.1 L694.5,1123.5 L695.5,1095.6 L696.6,1140.0 L697.6,1126.6 L698.7,1143.4 L699.7,1145.8 L700.8,1135.0 L701.8,1116.9 L702.9,1136.7 L703.9,1135.7 L705.0,1126.8 L706.0,1116.4 L707.1,1116.2 L708.1,1128.2 L709.2,1116.5 L710.2,1125.0 L711.3,1111.6 L712.3,1131.8 L713.4,1143.3 L714.4,1144.7 L715.5,1127.9 L716.5,1125.0 L717.6,1112.0 L718.6,1091.9 L719.7,1136.7 L720.7,1123.9 L721.8,1094.3 L722.8,1129.9 L723.9,1125.8 L724.9,1094.4 L726.0,1085.4 L727.0,1124.3 L728.1,1131.2 L729.1,1124.0 L730.2,1090.3 L731.2,1122.3 L732.3,1112.7 L733.3,1133.4 L734.4,1145.5 L735.4,1134.6 L736.5,1118.7 L737.5,1137.8 L738.6,1140.6 L739.6,1086.8 L740.7,1125.9 L741.7,1126.8 L742.8,1095.9 L743.8,1112.8 L744.9,1137.0 L745.9,1125.7 L747.0,1140.8 L748.0,1112.3 L749.1,1112.0 L750.1,1115.6 L751.2,1118.9 L752.2,1132.2 L753.3,1124.8 L754.3,1087.3 L755.4,1143.8 L756.4,1121.0 L757.5,1142.8 L758.5,1124.8 L759.6,1139.6 L760.6,1117.8 L761.7,1138.4 L762.7,1143.3 L763.8,1126.5 L764.8,1143.1 L765.9,1132.0 L766.9,1125.2 L768.0,1132.0 L769.0,1136.7 L770.1,1141.6 L771.1,1124.8 L772.2,1125.6 L773.2,1115.0 L774.3,1129.9 L775.3,1142.7 L776.4,1133.5 L777.4,1117.1 L778.5,1131.3 L779.5,1118.4 L780.6,1123.2 L781.6,1133.2 L782.7,1123.3 L783.7,1125.0 L784.8,1128.1 L785.8,1121.0 L786.9,1145.4 L787.9,1142.4 L789.0,1146.3 L790.0,1145.0 L791.1,1131.9 L792.1,1137.3 L793.2,1134.3 L794.2,1112.9 L795.3,1128.7 L796.3,1121.4 L797.4,1146.5 L798.4,1145.8 L799.5,1118.0 L800.5,1124.9 L801.6,1100.7 L802.6,1124.9 L803.7,1128.1 L804.7,1140.3 L805.8,1088.4 L806.8,1120.1 L807.9,1123.7 L808.9,1124.0 L810.0,1083.1 L811.0,1114.5 L812.1,1134.4 L813.1,1145.5 L814.2,1144.2 L815.2,1130.5 L816.3,1140.0 L817.3,1088.5 L818.4,1146.3 L819.4,1132.7 L820.5,1143.6 L821.5,1146.3 L822.6,1118.2 L823.6,1133.1 L824.7,1095.1 L825.7,1144.3 L826.8,1146.2 L827.8,1140.5 L828.9,1143.4 L829.9,1142.8 L831.0,1134.2 L832.0,1137.2 L833.1,1084.9 L834.1,1131.8 L835.2,1136.4 L836.2,1116.7 L837.3,1129.4 L838.3,1134.1 L839.4,1143.0 L840.4,1116.8 L841.5,1144.8 L842.5,1122.6 L843.6,1125.0 L844.6,1114.8 L845.7,1121.3 L846.7,1138.3 L847.8,1145.6 L848.8,1144.1 L849.9,1132.0 L850.9,1141.9 L852.0,1123.9 L853.0,1088.0 L854.1,1133.4 L855.1,1145.6 L856.2,1145.0 L857.2,1138.1 L858.3,1097.4 L859.3,1120.3 L860.4,1093.7 L861.4,1088.0 L862.5,1123.9 L863.5,1137.2 L864.6,1128.5 L865.6,1145.2 L866.7,1116.4 L867.7,1121.1 L868.8,1116.3 L869.8,1121.2 L870.9,1135.3 L871.9,1088.0 L873.0,1119.5 L874.0,1142.7 L875.1,1084.3 L876.1,1128.3 L877.2,1087.8 L878.2,1136.6 L879.3,1131.1 L880.3,1117.8 L881.4,1132.7 L882.4,1146.3 L883.5,1133.4 L884.5,1137.1 L885.6,1133.9 L886.6,1126.0 L887.7,1114.5 L888.7,1137.7 L889.8,1123.7 L890.8,1120.0 L891.9,1141.7 L892.9,1144.8 L894.0,1137.2 L895.0,1131.9 L896.1,1132.0 L897.1,1125.7 L898.2,1137.6 L899.2,1127.7 L900.3,1123.6 L901.3,1146.1 L902.4,1142.8 L903.4,1121.6 L904.5,1137.1 L905.5,1145.6 L906.6,1138.3 L907.6,1121.5 L908.7,1125.3 L909.7,1116.3 L910.8,1135.1 L911.8,1141.9 L912.9,1088.0 L913.9,1119.9 L915.0,1126.1 L916.0,1142.2 L917.1,1134.3 L918.1,1140.8 L919.2,1138.8 L920.2,1134.5 L921.3,1123.4 L922.3,1139.5 L923.4,1122.0 L924.4,1143.3 L925.5,1141.0 L926.5,1122.0 L927.6,1117.5 L928.6,1088.7 L929.7,1139.6 L930.7,1132.2 L931.8,1133.3 L932.8,1144.1 L933.9,1133.2 L934.9,1133.7 L936.0,1119.0 L937.0,1116.7 L938.1,1123.1 L939.1,1133.7 L940.2,1090.4 L941.2,1117.8 L942.3,1085.0 L943.3,1127.7 L944.4,1124.3 L945.4,1122.8 L946.5,1091.5 L947.5,1133.9 L948.6,1117.3 L949.6,1133.5 L950.7,1117.1 L951.7,1124.3 L952.8,1132.5 L953.8,1134.5 L954.9,1122.9 L955.9,1133.7 L957.0,1135.3 L958.0,1126.2 L959.1,1118.3 L960.1,1129.9 L961.2,1133.5 L962.2,1119.7 L963.3,1117.7 L964.3,1118.4 L965.4,1129.8 L966.4,1116.9 L967.5,1123.1 L968.5,1122.8 L969.6,1126.9 L970.6,1130.7 L971.7,1134.5" fill="none" stroke="#beb115" stroke-width="4.3" stroke-linejoin="round" stroke-linecap="butt"/>
<path d="M150.0,1132.5 L151.0,1132.5 L152.0,1132.5 L153.0,1132.5 L154.0,1132.5 L155.0,1132.5 L156.0,1132.5 L157.0,1132.5 L158.0,1132.5 L159.0,1132.5 L160.0,1132.4 L161.0,1132.4 L162.0,1132.4 L163.0,1132.4 L164.0,1132.4 L165.0,1132.4 L166.0,1132.4 L167.0,1132.4 L168.0,1132.3 L169.0,1132.3 L170.0,1132.3 L171.0,1132.3 L172.0,1132.2 L173.0,1132.0 L174.0,1131.9 L175.0,1131.7 L176.0,1131.5 L177.0,1131.3 L178.0,1131.1 L179.0,1130.9 L180.0,1130.7 L181.0,1130.5 L182.0,1130.4 L183.0,1130.3 L184.0,1130.2 L185.0,1130.2 L186.0,1130.3 L187.0,1130.4 L188.0,1130.6 L189.0,1130.8 L190.0,1131.1 L191.0,1131.3 L192.0,1131.5 L193.0,1131.6 L194.0,1131.8 L195.0,1131.8 L196.0,1131.8 L197.0,1131.6 L198.0,1131.5 L199.0,1131.2 L200.0,1131.0 L201.0,1130.7 L202.0,1130.4 L203.0,1130.2 L204.0,1129.9 L205.0,1129.8 L206.0,1129.6 L207.0,1129.6 L208.0,1129.6 L209.0,1129.8 L210.0,1130.0 L211.0,1130.2 L212.0,1130.5 L213.0,1130.7 L214.0,1131.0 L215.0,1131.2 L216.0,1131.4 L217.0,1131.6 L218.0,1131.6 L219.0,1131.6 L220.0,1131.5 L221.0,1131.4 L222.0,1131.2 L223.0,1131.0 L224.0,1130.8 L225.0,1130.6 L226.0,1130.4 L227.0,1130.2 L228.0,1130.0 L229.0,1129.9 L230.0,1129.8 L231.0,1129.8 L232.0,1129.9 L233.0,1130.0 L234.0,1130.3 L235.0,1130.6 L236.0,1130.9 L237.0,1131.2 L238.0,1131.5 L239.0,1131.7 L240.0,1131.8 L241.0,1131.9 L242.0,1131.9 L243.0,1132.0 L244.0,1132.1 L245.0,1132.1 L246.0,1132.2 L247.0,1132.2 L248.0,1132.3 L249.0,1132.3 L250.0,1132.4 L251.0,1132.4 L252.0,1132.4 L253.0,1132.4 L254.0,1132.3 L255.0,1132.0 L256.0,1131.4 L257.0,1130.5 L258.0,1129.0 L259.0,1126.8 L260.0,1124.3 L261.0,1121.7 L262.0,1119.3 L263.0,1117.1 L264.0,1115.1 L265.0,1112.9 L266.0,1110.5 L267.0,1107.7 L268.0,1104.0 L269.0,1099.0 L270.0,1092.8 L271.0,1086.0 L272.0,1079.1 L273.0,1071.8 L274.0,1063.7 L275.0,1055.2 L276.0,1045.9 L277.0,1035.8 L278.0,1025.5 L279.0,1015.4 L280.0,1005.5 L281.0,995.6 L282.0,985.5 L283.0,975.4 L284.0,965.1 L285.0,954.5 L286.0,943.3 L287.0,931.7 L288.0,919.8 L289.0,907.4 L290.0,894.3 L291.0,883.0 L292.0,874.0 L293.0,865.7 L294.0,857.2 L295.0,848.6 L296.0,840.1 L297.0,831.8 L298.0,823.2 L299.0,815.1 L300.0,808.1 L301.0,802.1 L302.0,796.7 L303.0,791.8 L304.0,787.3 L305.0,783.2 L306.0,779.5 L307.0,776.0 L308.0,772.8 L309.0,769.8 L310.0,766.9 L311.0,764.2 L312.0,761.7 L313.0,759.5 L314.0,757.5 L315.0,755.8 L316.0,754.1 L317.0,752.6 L318.0,751.1 L319.0,749.6 L320.0,748.0 L321.0,746.5 L322.0,745.1 L323.0,743.6 L324.0,742.2 L325.0,740.7 L326.0,739.1 L327.0,737.4 L328.0,735.7 L329.0,733.9 L330.0,732.0 L331.0,730.1 L332.0,728.1 L333.0,726.1 L334.0,723.8 L335.0,721.3 L336.0,718.6 L337.0,716.1 L338.0,713.8 L339.0,712.0 L340.0,710.8 L341.0,709.8 L342.0,708.7 L343.0,707.9 L344.0,707.2 L345.0,706.7 L346.0,706.5 L347.0,706.6 L348.0,707.0 L349.0,707.6 L350.0,708.3 L351.0,709.1 L352.0,710.0 L353.0,710.9 L354.0,711.9 L355.0,713.1 L356.0,714.5 L357.0,716.1 L358.0,718.0 L359.0,720.6 L360.0,723.6 L361.0,726.8 L362.0,729.7 L363.0,732.1 L364.0,734.0 L365.0,735.7 L366.0,737.4 L367.0,739.3 L368.0,741.4 L369.0,743.7 L370.0,746.2 L371.0,748.8 L372.0,751.4 L373.0,754.0 L374.0,756.5 L375.0,759.1 L376.0,761.7 L377.0,764.3 L378.0,766.9 L379.0,769.6 L380.0,772.2 L381.0,774.9 L382.0,777.7 L383.0,780.4 L384.0,783.2 L385.0,786.1 L386.0,788.9 L387.0,791.7 L388.0,794.5 L389.0,797.2 L390.0,799.9 L391.0,802.6 L392.0,805.2 L393.0,807.8 L394.0,810.4 L395.0,813.0 L396.0,815.6 L397.0,818.1 L398.0,820.6 L399.0,823.0 L400.0,825.4 L401.0,827.8 L402.0,830.2 L403.0,832.5 L404.0,835.0 L405.0,837.4 L406.0,839.9 L407.0,842.5 L408.0,845.2 L409.0,847.9 L410.0,850.6 L411.0,853.3 L412.0,855.8 L413.0,858.3 L414.0,860.6 L415.0,862.7 L416.0,864.6 L417.0,866.5 L418.0,868.4 L419.0,870.2 L420.0,872.2 L421.0,874.3 L422.0,876.5 L423.0,879.1 L424.0,881.8 L425.0,884.7 L426.0,887.7 L427.0,890.7 L428.0,893.6 L429.0,896.4 L430.0,899.2 L431.0,902.1 L432.0,904.9 L433.0,907.7 L434.0,910.3 L435.0,912.8 L436.0,915.0 L437.0,917.0 L438.0,918.9 L439.0,920.6 L440.0,922.3 L441.0,923.9 L442.0,925.6 L443.0,927.2 L444.0,929.0 L445.0,930.8 L446.0,932.7 L447.0,934.6 L448.0,936.5 L449.0,938.4 L450.0,940.3 L451.0,942.2 L452.0,944.0 L453.0,945.8 L454.0,947.6 L455.0,949.3 L456.0,951.1 L457.0,952.8 L458.0,954.6 L459.0,956.3 L460.0,958.0 L461.0,959.7 L462.0,961.4 L463.0,963.1 L464.0,964.9 L465.0,966.6 L466.0,968.3 L467.0,969.9 L468.0,971.6 L469.0,973.3 L470.0,974.9 L471.0,976.5 L472.0,978.0 L473.0,979.5 L474.0,981.0 L475.0,982.5 L476.0,984.0 L477.0,985.4 L478.0,986.9 L479.0,988.3 L480.0,989.6 L481.0,991.0 L482.0,992.4 L483.0,993.7 L484.0,995.0 L485.0,996.3 L486.0,997.6 L487.0,998.9 L488.0,1000.1 L489.0,1001.4 L490.0,1002.7 L491.0,1003.9 L492.0,1005.1 L493.0,1006.3 L494.0,1007.5 L495.0,1008.6 L496.0,1009.8 L497.0,1010.9 L498.0,1011.9 L499.0,1013.0 L500.0,1014.0 L501.0,1015.0 L502.0,1015.9 L503.0,1016.9 L504.0,1017.8 L505.0,1018.7 L506.0,1019.6 L507.0,1020.5 L508.0,1021.3 L509.0,1022.2 L510.0,1023.0 L511.0,1023.8 L512.0,1024.6 L513.0,1025.4 L514.0,1026.2 L515.0,1027.0 L516.0,1027.8 L517.0,1028.6 L518.0,1029.4 L519.0,1030.2 L520.0,1031.0 L521.0,1031.8 L522.0,1032.6 L523.0,1033.4 L524.0,1034.1 L525.0,1034.9 L526.0,1035.7 L527.0,1036.4 L528.0,1037.2 L529.0,1037.9 L530.0,1038.6 L531.0,1039.4 L532.0,1040.1 L533.0,1040.8 L534.0,1041.6 L535.0,1042.3 L536.0,1043.0 L537.0,1043.7 L538.0,1044.4 L539.0,1045.1 L540.0,1045.8 L541.0,1046.6 L542.0,1047.3 L543.0,1047.9 L544.0,1048.6 L545.0,1049.3 L546.0,1050.0 L547.0,1050.7 L548.0,1051.4 L549.0,1052.0 L550.0,1052.7 L551.0,1053.3 L552.0,1054.0 L553.0,1054.6 L554.0,1055.3 L555.0,1055.9 L556.0,1056.6 L557.0,1057.2 L558.0,1057.8 L559.0,1058.4 L560.0,1059.1 L561.0,1059.7 L562.0,1060.3 L563.0,1060.9 L564.0,1061.5 L565.0,1062.1 L566.0,1062.7 L567.0,1063.3 L568.0,1063.9 L569.0,1064.4 L570.0,1065.0 L571.0,1065.6 L572.0,1066.2 L573.0,1066.8 L574.0,1067.4 L575.0,1068.0 L576.0,1068.7 L577.0,1069.3 L578.0,1069.9 L579.0,1070.5 L580.0,1071.1 L581.0,1071.7 L582.0,1072.3 L583.0,1072.8 L584.0,1073.3 L585.0,1073.8 L586.0,1074.2 L587.0,1074.6 L588.0,1075.0 L589.0,1075.3 L590.0,1075.5 L591.0,1075.7 L592.0,1075.9 L593.0,1076.0 L594.0,1076.1 L595.0,1076.3 L596.0,1076.4 L597.0,1076.5 L598.0,1076.6 L599.0,1076.8 L600.0,1077.0 L601.0,1077.3 L602.0,1077.6 L603.0,1078.0 L604.0,1078.5 L605.0,1078.9 L606.0,1079.4 L607.0,1079.9 L608.0,1080.3 L609.0,1080.7 L610.0,1081.0 L611.0,1081.2 L612.0,1081.5 L613.0,1081.6 L614.0,1081.8 L615.0,1082.0 L616.0,1082.1 L617.0,1082.3 L618.0,1082.5 L619.0,1082.7 L620.0,1083.0 L621.0,1083.4 L622.0,1083.8 L623.0,1084.4 L624.0,1085.0 L625.0,1085.7 L626.0,1086.4 L627.0,1087.0 L628.0,1087.6 L629.0,1088.1 L630.0,1088.5 L631.0,1088.8 L632.0,1089.1 L633.0,1089.4 L634.0,1089.7 L635.0,1089.9 L636.0,1090.2 L637.0,1090.4 L638.0,1090.6 L639.0,1090.8 L640.0,1091.0 L641.0,1091.2 L642.0,1091.4 L643.0,1091.6 L644.0,1091.8 L645.0,1092.0 L646.0,1092.2 L647.0,1092.4 L648.0,1092.6 L649.0,1092.8 L650.0,1093.0 L651.0,1093.2 L652.0,1093.5 L653.0,1093.7 L654.0,1093.9 L655.0,1094.1 L656.0,1094.4 L657.0,1094.6 L658.0,1094.8 L659.0,1095.1 L660.0,1095.3 L661.0,1095.5 L662.0,1095.7 L663.0,1096.0 L664.0,1096.2 L665.0,1096.4 L666.0,1096.6 L667.0,1096.9 L668.0,1097.1 L669.0,1097.3 L670.0,1097.5 L671.0,1097.7 L672.0,1097.9 L673.0,1098.1 L674.0,1098.4 L675.0,1098.6 L676.0,1098.8 L677.0,1099.0 L678.0,1099.2 L679.0,1099.4 L680.0,1099.6 L681.0,1099.8 L682.0,1100.0 L683.0,1100.2 L684.0,1100.4 L685.0,1100.6 L686.0,1100.8 L687.0,1101.0 L688.0,1101.2 L689.0,1101.3 L690.0,1101.5 L691.0,1101.7 L692.0,1101.8 L693.0,1102.0 L694.0,1102.2 L695.0,1102.3 L696.0,1102.5 L697.0,1102.7 L698.0,1102.8 L699.0,1103.0 L700.0,1103.1 L701.0,1103.3 L702.0,1103.4 L703.0,1103.5 L704.0,1103.7 L705.0,1103.8 L706.0,1103.9 L707.0,1104.1 L708.0,1104.2 L709.0,1104.3 L710.0,1104.4 L711.0,1104.5 L712.0,1104.6 L713.0,1104.7 L714.0,1104.8 L715.0,1104.9 L716.0,1105.0 L717.0,1105.2 L718.0,1105.3 L719.0,1105.4 L720.0,1105.5 L721.0,1105.5 L722.0,1105.6 L723.0,1105.7 L724.0,1105.8 L725.0,1105.8 L726.0,1105.9 L727.0,1105.9 L728.0,1106.0 L729.0,1106.0 L730.0,1106.0 L731.0,1106.0 L732.0,1105.9 L733.0,1105.7 L734.0,1105.5 L735.0,1105.3 L736.0,1105.1 L737.0,1104.9 L738.0,1104.7 L739.0,1104.6 L740.0,1104.6 L741.0,1104.6 L742.0,1104.6 L743.0,1104.7 L744.0,1104.8 L745.0,1104.9 L746.0,1105.0 L747.0,1105.1 L748.0,1105.2 L749.0,1105.4 L750.0,1105.5 L751.0,1105.7 L752.0,1106.0 L753.0,1106.3 L754.0,1106.6 L755.0,1107.0 L756.0,1107.4 L757.0,1107.7 L758.0,1108.0 L759.0,1108.2 L760.0,1108.5 L761.0,1108.8 L762.0,1109.0 L763.0,1109.2 L764.0,1109.4 L765.0,1109.5 L766.0,1109.6 L767.0,1109.6 L768.0,1109.7 L769.0,1109.7 L770.0,1109.8 L771.0,1109.8 L772.0,1109.8 L773.0,1109.8 L774.0,1109.8 L775.0,1109.9 L776.0,1109.9 L777.0,1109.9 L778.0,1109.9 L779.0,1110.0 L780.0,1110.0 L781.0,1110.0 L782.0,1110.1 L783.0,1110.1 L784.0,1110.2 L785.0,1110.2 L786.0,1110.3 L787.0,1110.3 L788.0,1110.4 L789.0,1110.4 L790.0,1110.5 L791.0,1110.6 L792.0,1110.6 L793.0,1110.7 L794.0,1110.8 L795.0,1110.9 L796.0,1111.0 L797.0,1111.1 L798.0,1111.1 L799.0,1111.2 L800.0,1111.2 L801.0,1111.2 L802.0,1111.2 L803.0,1111.1 L804.0,1111.1 L805.0,1111.0 L806.0,1110.9 L807.0,1110.9 L808.0,1110.8 L809.0,1110.8 L810.0,1110.8 L811.0,1110.9 L812.0,1111.0 L813.0,1111.2 L814.0,1111.5 L815.0,1111.8 L816.0,1112.1 L817.0,1112.4 L818.0,1112.7 L819.0,1112.9 L820.0,1113.0 L821.0,1113.1 L822.0,1113.1 L823.0,1113.2 L824.0,1113.2 L825.0,1113.2 L826.0,1113.3 L827.0,1113.3 L828.0,1113.3 L829.0,1113.4 L830.0,1113.4 L831.0,1113.4 L832.0,1113.5 L833.0,1113.5 L834.0,1113.6 L835.0,1113.7 L836.0,1113.7 L837.0,1113.8 L838.0,1113.8 L839.0,1113.9 L840.0,1114.0 L841.0,1114.1 L842.0,1114.3 L843.0,1114.5 L844.0,1114.7 L845.0,1114.9 L846.0,1115.1 L847.0,1115.3 L848.0,1115.5 L849.0,1115.6 L850.0,1115.6 L851.0,1115.6 L852.0,1115.5 L853.0,1115.3 L854.0,1115.2 L855.0,1115.0 L856.0,1114.8 L857.0,1114.7 L858.0,1114.5 L859.0,1114.4 L860.0,1114.4 L861.0,1114.4 L862.0,1114.5 L863.0,1114.6 L864.0,1114.8 L865.0,1115.0 L866.0,1115.1 L867.0,1115.3 L868.0,1115.4 L869.0,1115.5 L870.0,1115.6 L871.0,1115.6 L872.0,1115.7 L873.0,1115.7 L874.0,1115.7 L875.0,1115.7 L876.0,1115.7 L877.0,1115.7 L878.0,1115.7 L879.0,1115.8 L880.0,1115.8 L881.0,1115.8 L882.0,1115.9 L883.0,1116.0 L884.0,1116.1 L885.0,1116.2 L886.0,1116.3 L887.0,1116.4 L888.0,1116.5 L889.0,1116.6 L890.0,1116.6 L891.0,1116.6 L892.0,1116.7 L893.0,1116.7 L894.0,1116.7 L895.0,1116.7 L896.0,1116.7 L897.0,1116.7 L898.0,1116.8 L899.0,1116.8 L900.0,1116.8 L901.0,1116.8 L902.0,1116.9 L903.0,1116.9 L904.0,1117.0 L905.0,1117.1 L906.0,1117.1 L907.0,1117.2 L908.0,1117.3 L909.0,1117.3 L910.0,1117.4 L911.0,1117.4 L912.0,1117.5 L913.0,1117.5 L914.0,1117.6 L915.0,1117.6 L916.0,1117.6 L917.0,1117.7 L918.0,1117.7 L919.0,1117.7 L920.0,1117.8 L921.0,1117.9 L922.0,1118.0 L923.0,1118.1 L924.0,1118.3 L925.0,1118.4 L926.0,1118.6 L927.0,1118.7 L928.0,1118.9 L929.0,1118.9 L930.0,1119.0 L931.0,1119.0 L932.0,1119.1 L933.0,1119.1 L934.0,1119.1 L935.0,1119.1 L936.0,1119.2 L937.0,1119.2 L938.0,1119.2 L939.0,1119.2 L940.0,1119.2 L941.0,1119.2 L942.0,1119.1 L943.0,1119.0 L944.0,1118.9 L945.0,1118.8 L946.0,1118.7 L947.0,1118.6 L948.0,1118.5 L949.0,1118.4 L950.0,1118.4 L951.0,1118.4 L952.0,1118.3 L953.0,1118.3 L954.0,1118.3 L955.0,1118.3 L956.0,1118.3 L957.0,1118.3 L958.0,1118.2 L959.0,1118.2 L960.0,1118.2 L961.0,1118.2 L962.0,1118.1 L963.0,1118.1 L964.0,1118.1 L965.0,1118.0 L966.0,1118.0 L967.0,1117.9 L968.0,1117.8 L969.0,1117.8 L970.0,1117.7 L971.0,1117.7 L972.0,1117.6" fill="none" stroke="#03704f" stroke-width="4.0" stroke-linejoin="round" stroke-linecap="butt"/>
</g>
<path d="M204.50,1137.7V1116.7M204.50,581.4V602.4M331.87,1137.7V1116.7M331.87,581.4V602.4M459.23,1137.7V1116.7M459.23,581.4V602.4M586.60,1137.7V1116.7M586.60,581.4V602.4M713.96,1137.7V1116.7M713.96,581.4V602.4M841.32,1137.7V1116.7M841.32,581.4V602.4M968.69,1137.7V1116.7M968.69,581.4V602.4M153.4,1135.00H174.4M969.3,1135.00H948.3M153.4,1024.40H174.4M969.3,1024.40H948.3M153.4,913.80H174.4M969.3,913.80H948.3M153.4,803.20H174.4M969.3,803.20H948.3M153.4,692.60H174.4M969.3,692.60H948.3M153.4,582.00H174.4M969.3,582.00H948.3" stroke="#000" stroke-width="3" fill="none"/>
<rect x="153.4" y="581.4" width="815.90" height="556.30" fill="none" stroke="#000" stroke-width="5"/>
<line x1="818.0" y1="1221.4" x2="799.2" y2="1274" stroke="#000" stroke-width="1.9"/>
<line x1="-2" y1="724.9" x2="51.4" y2="743.9" stroke="#000" stroke-width="1.9"/>
<path d="M599.1,971.3L615.7,986.7M615.7,971.3L599.1,986.7" stroke="#000" stroke-width="1.7" fill="none"/>
<line x1="521.10" y1="730.40" x2="401.95" y2="794.01" stroke="#000" stroke-width="2.3"/><polygon points="389.60,800.60 402.59,787.77 402.39,793.77 407.49,796.95" fill="#000"/>
<line x1="550.70" y1="879.70" x2="421.93" y2="963.56" stroke="#000" stroke-width="2.3"/><polygon points="410.20,971.20 422.03,957.29 422.35,963.29 427.70,966.01" fill="#000"/>
<line x1="621.20" y1="998.20" x2="491.63" y2="1082.66" stroke="#000" stroke-width="2.3"/><polygon points="479.90,1090.30 491.72,1076.39 492.05,1082.38 497.40,1085.10" fill="#000"/>
<text transform="matrix(0.42353 0 0 0.48889 20.176 82.236)" font-family="Liberation Sans, sans-serif" font-size="100">a</text>
<text transform="matrix(0.53333 0 0 0.48262 51.000 81.443)" font-family="Liberation Sans, sans-serif" font-size="100">)</text>
<text transform="matrix(0.34748 0 0 0.36452 129.685 62.630)" font-family="Liberation Sans, sans-serif" font-size="100">FC</text>
<text transform="matrix(0.25600 0 0 0.25031 176.000 70.800)" font-family="Liberation Sans, sans-serif" font-size="100">2</text>
<text transform="matrix(0.20211 0 0 0.18863 188.653 63.663)" font-family="Liberation Sans, sans-serif" font-size="100">°</text>
<text transform="matrix(0.34666 0 0 0.37704 201.492 163.711)" font-family="Liberation Sans, sans-serif" font-size="100">FC</text>
<text transform="matrix(0.25754 0 0 0.25043 248.195 171.109)" font-family="Liberation Sans, sans-serif" font-size="100">30</text>
<text transform="matrix(0.19537 0 0 0.16842 275.284 161.342)" font-family="Liberation Sans, sans-serif" font-size="100">°</text>
<text transform="matrix(0.39685 0 0 0.36511 155.320 337.013)" font-family="Liberation Sans, sans-serif" font-size="100">plasma</text>
<text transform="matrix(0.40305 0 0 0.36667 83.120 419.427)" font-family="Liberation Sans, sans-serif" font-size="100">solid</text>
<text transform="matrix(0.41835 0 0 0.36197 269.943 415.832)" font-family="Liberation Sans, sans-serif" font-size="100">droplet</text>
<text transform="matrix(0.38477 0 0 0.38539 119.298 465.098)" font-family="Liberation Sans, sans-serif" font-size="100">Sn</text>
<text transform="matrix(0.42335 0 0 0.36571 180.300 464.000)" font-family="Liberation Sans, sans-serif" font-size="100">targets</text>
<text transform="matrix(0 -0.40808 0.37733 0 393.610 135.150)" font-family="Liberation Sans, sans-serif" font-size="100">laser</text>
<text transform="matrix(0 -0.43507 0.38684 0 394.200 190.499)" font-family="Liberation Sans, sans-serif" font-size="100">IR</text>
<text transform="matrix(0 -0.40239 0.37561 0 393.384 321.515)" font-family="Liberation Sans, sans-serif" font-size="100">pulsed</text>
<text transform="matrix(0.50759 0 0 0.49333 612.828 82.229)" font-family="Liberation Sans, sans-serif" font-size="100">b</text>
<text transform="matrix(0.49778 0 0 0.48262 644.500 81.443)" font-family="Liberation Sans, sans-serif" font-size="100">)</text>
<text transform="matrix(0.47158 0 0 0.51200 496.716 43.200)" font-family="Liberation Serif, serif" font-size="100" stroke="#fff" stroke-width="1.018">10</text>
<text transform="matrix(0.33067 0 0 0.35423 543.983 24.400)" font-family="Liberation Serif, serif" font-size="100">4</text>
<text transform="matrix(0.46933 0 0 0.51200 496.833 117.600)" font-family="Liberation Serif, serif" font-size="100" stroke="#fff" stroke-width="1.020">10</text>
<text transform="matrix(0.34607 0 0 0.35636 543.378 98.943)" font-family="Liberation Serif, serif" font-size="100">3</text>
<text transform="matrix(0.46933 0 0 0.51200 496.833 198.700)" font-family="Liberation Serif, serif" font-size="100" stroke="#fff" stroke-width="1.020">10</text>
<text transform="matrix(0.32948 0 0 0.35870 544.570 180.100)" font-family="Liberation Serif, serif" font-size="100">2</text>
<text transform="matrix(0.47495 0 0 0.51200 496.789 280.400)" font-family="Liberation Serif, serif" font-size="100" stroke="#fff" stroke-width="1.014">10</text>
<text transform="matrix(0.30800 0 0 0.35870 544.744 262.000)" font-family="Liberation Serif, serif" font-size="100">1</text>
<text transform="matrix(0.47607 0 0 0.51345 496.181 361.498)" font-family="Liberation Serif, serif" font-size="100" stroke="#fff" stroke-width="1.011">10</text>
<text transform="matrix(0.30857 0 0 0.36364 544.936 343.232)" font-family="Liberation Serif, serif" font-size="100">0</text>
<text transform="matrix(0.47495 0 0 0.51782 616.369 482.991)" font-family="Liberation Serif, serif" font-size="100" stroke="#fff" stroke-width="1.008">10</text>
<text transform="matrix(0.30857 0 0 0.36364 665.016 464.432)" font-family="Liberation Serif, serif" font-size="100">0</text>
<text transform="matrix(0.47495 0 0 0.51782 694.849 482.991)" font-family="Liberation Serif, serif" font-size="100" stroke="#fff" stroke-width="1.008">10</text>
<text transform="matrix(0.30800 0 0 0.35870 742.804 464.200)" font-family="Liberation Serif, serif" font-size="100">1</text>
<text transform="matrix(0.47495 0 0 0.51782 773.329 482.991)" font-family="Liberation Serif, serif" font-size="100" stroke="#fff" stroke-width="1.008">10</text>
<text transform="matrix(0.32948 0 0 0.35870 821.610 464.000)" font-family="Liberation Serif, serif" font-size="100">2</text>
<text transform="matrix(0.47495 0 0 0.51782 851.809 482.991)" font-family="Liberation Serif, serif" font-size="100" stroke="#fff" stroke-width="1.008">10</text>
<text transform="matrix(0.34607 0 0 0.35636 898.898 463.943)" font-family="Liberation Serif, serif" font-size="100">3</text>
<text transform="matrix(0.47495 0 0 0.51782 930.289 482.991)" font-family="Liberation Serif, serif" font-size="100" stroke="#fff" stroke-width="1.008">10</text>
<text transform="matrix(0.33067 0 0 0.35423 977.883 463.800)" font-family="Liberation Serif, serif" font-size="100">4</text>
<text transform="matrix(0.43604 0 0 0.49467 576.093 541.427)" font-family="Liberation Sans, sans-serif" font-size="100">Pulse</text>
<text transform="matrix(0.46875 0 0 0.49067 700.135 541.233)" font-family="Liberation Sans, sans-serif" font-size="100">duration</text>
<text transform="matrix(0.46222 0 0 0.55082 887.333 542.951)" font-family="Liberation Sans, sans-serif" font-size="100">(</text>
<text transform="matrix(0.41043 0 0 0.43755 906.435 541.929)" font-family="Liberation Sans, sans-serif" font-size="100">ps</text>
<text transform="matrix(0.46222 0 0 0.55082 952.000 542.951)" font-family="Liberation Sans, sans-serif" font-size="100">)</text>
<text transform="matrix(0 -0.42539 0.48667 0 478.740 464.723)" font-family="Liberation Sans, sans-serif" font-size="100">Peak</text>
<text transform="matrix(0 -0.43812 0.49467 0 478.727 349.500)" font-family="Liberation Sans, sans-serif" font-size="100">fluence</text>
<text transform="matrix(0 -0.46933 0.54872 0 480.197 191.100)" font-family="Liberation Sans, sans-serif" font-size="100">(</text>
<text transform="matrix(0 -0.37926 0.48557 0 478.741 170.593)" font-family="Liberation Sans, sans-serif" font-size="100">J</text>
<text transform="matrix(0 -0.44640 0.41956 0 478.844 139.095)" font-family="Liberation Sans, sans-serif" font-size="100">cm</text>
<text transform="matrix(0 -0.29600 0.26880 0 459.180 80.388)" font-family="Liberation Sans, sans-serif" font-size="100">−</text>
<text transform="matrix(0 -0.34370 0.36316 0 460.400 59.574)" font-family="Liberation Serif, serif" font-size="100">2</text>
<text transform="matrix(0 -0.45156 0.54872 0 480.197 39.800)" font-family="Liberation Sans, sans-serif" font-size="100">)</text>
<text transform="matrix(0.47228 0 0 0.48000 22.324 606.250)" font-family="Liberation Sans, sans-serif" font-size="100">c</text>
<text transform="matrix(0.51556 0 0 0.48052 49.000 605.289)" font-family="Liberation Sans, sans-serif" font-size="100">)</text>
<text transform="matrix(0.48213 0 0 0.52364 80.493 705.682)" font-family="Liberation Serif, serif" font-size="100" stroke="#fff" stroke-width="0.995">80</text>
<text transform="matrix(0.48213 0 0 0.51345 80.493 815.998)" font-family="Liberation Serif, serif" font-size="100" stroke="#fff" stroke-width="1.005">60</text>
<text transform="matrix(0.48262 0 0 0.52364 80.446 927.182)" font-family="Liberation Serif, serif" font-size="100" stroke="#fff" stroke-width="0.995">40</text>
<text transform="matrix(0.48640 0 0 0.51345 79.980 1037.598)" font-family="Liberation Serif, serif" font-size="100" stroke="#fff" stroke-width="1.001">20</text>
<text transform="matrix(0.46857 0 0 0.51273 106.786 1148.449)" font-family="Liberation Serif, serif" font-size="100" stroke="#fff" stroke-width="1.020">0</text>
<text transform="matrix(0.49371 0 0 0.51782 191.057 1195.591)" font-family="Liberation Serif, serif" font-size="100" stroke="#fff" stroke-width="0.989">0</text>
<text transform="matrix(0.48814 0 0 0.51782 305.112 1195.591)" font-family="Liberation Serif, serif" font-size="100" stroke="#fff" stroke-width="0.995">50</text>
<text transform="matrix(0.47461 0 0 0.52655 420.792 1195.377)" font-family="Liberation Serif, serif" font-size="100" stroke="#fff" stroke-width="1.000">100</text>
<text transform="matrix(0.47892 0 0 0.51927 547.158 1195.089)" font-family="Liberation Serif, serif" font-size="100" stroke="#fff" stroke-width="1.003">150</text>
<text transform="matrix(0.47304 0 0 0.51927 675.222 1195.089)" font-family="Liberation Serif, serif" font-size="100" stroke="#fff" stroke-width="1.009">200</text>
<text transform="matrix(0.46609 0 0 0.51927 803.043 1195.089)" font-family="Liberation Serif, serif" font-size="100" stroke="#fff" stroke-width="1.016">250</text>
<text transform="matrix(0.47824 0 0 0.51200 929.558 1195.200)" font-family="Liberation Serif, serif" font-size="100" stroke="#fff" stroke-width="1.010">300</text>
<text transform="matrix(0.44750 0 0 0.48667 201.804 1259.640)" font-family="Liberation Sans, sans-serif" font-size="100">Normalized</text>
<text transform="matrix(0.47657 0 0 0.47333 446.300 1259.660)" font-family="Liberation Sans, sans-serif" font-size="100">time</text>
<text transform="matrix(0.50611 0 0 0.48667 550.818 1259.640)" font-family="Liberation Sans, sans-serif" font-size="100">of</text>
<text transform="matrix(0.47502 0 0 0.49731 609.000 1259.121)" font-family="Liberation Sans, sans-serif" font-size="100">flight</text>
<text transform="matrix(0.51200 0 0 0.55921 729.000 1261.267)" font-family="Liberation Sans, sans-serif" font-size="100">(</text>
<text transform="matrix(0.56155 0 0 0.47709 749.877 1259.364)" font-family="Liberation Serif, serif" font-size="100" font-style="italic">μ</text>
<text transform="matrix(0.37076 0 0 0.44089 778.021 1260.311)" font-family="Liberation Sans, sans-serif" font-size="100">s</text>
<text transform="matrix(0.46748 0 0 0.43886 820.478 1260.200)" font-family="Liberation Sans, sans-serif" font-size="100">m</text>
<text transform="matrix(0.45511 0 0 0.55921 862.600 1261.267)" font-family="Liberation Sans, sans-serif" font-size="100">)</text>
<text transform="matrix(0 -0.44113 0.50087 0 38.117 1077.246)" font-family="Liberation Sans, sans-serif" font-size="100">Ion</text>
<text transform="matrix(0 -0.46069 0.44205 0 38.909 998.240)" font-family="Liberation Sans, sans-serif" font-size="100">current</text>
<text transform="matrix(0 -0.44800 0.56446 0 39.452 835.600)" font-family="Liberation Sans, sans-serif" font-size="100">(</text>
<text transform="matrix(0 -0.46035 0.51484 0 38.900 817.477)" font-family="Liberation Sans, sans-serif" font-size="100">mA</text>
<text transform="matrix(0 -0.41354 0.40889 0 38.261 721.946)" font-family="Liberation Sans, sans-serif" font-size="100">sr</text>
<text transform="matrix(0 -0.44089 0.56551 0 39.530 684.200)" font-family="Liberation Sans, sans-serif" font-size="100">)</text>
<text transform="matrix(0.32000 0 0 0.33391 525.250 718.228)" font-family="Liberation Sans, sans-serif" font-size="100">6</text>
<text transform="matrix(0.29454 0 0 0.31636 548.909 718.051)" font-family="Liberation Sans, sans-serif" font-size="100">ns,</text>
<text transform="matrix(0.30607 0 0 0.33400 600.522 718.228)" font-family="Liberation Sans, sans-serif" font-size="100">solid</text>
<text transform="matrix(0.31035 0 0 0.32557 561.715 868.691)" font-family="Liberation Sans, sans-serif" font-size="100">4.5</text>
<text transform="matrix(0.30081 0 0 0.31739 610.720 868.557)" font-family="Liberation Sans, sans-serif" font-size="100">ps,</text>
<text transform="matrix(0.30833 0 0 0.33600 662.518 868.675)" font-family="Liberation Sans, sans-serif" font-size="100">solid</text>
<text transform="matrix(0.30465 0 0 0.31722 622.172 988.104)" font-family="Liberation Sans, sans-serif" font-size="100">20</text>
<text transform="matrix(0.29724 0 0 0.31722 622.942 1027.704)" font-family="Liberation Sans, sans-serif" font-size="100">15</text>
<text transform="matrix(0.30081 0 0 0.29780 662.520 1027.686)" font-family="Liberation Sans, sans-serif" font-size="100">ps,</text>
<text transform="matrix(0.32081 0 0 0.31475 713.797 1027.315)" font-family="Liberation Sans, sans-serif" font-size="100">droplet</text>
</svg>
</body></html>
